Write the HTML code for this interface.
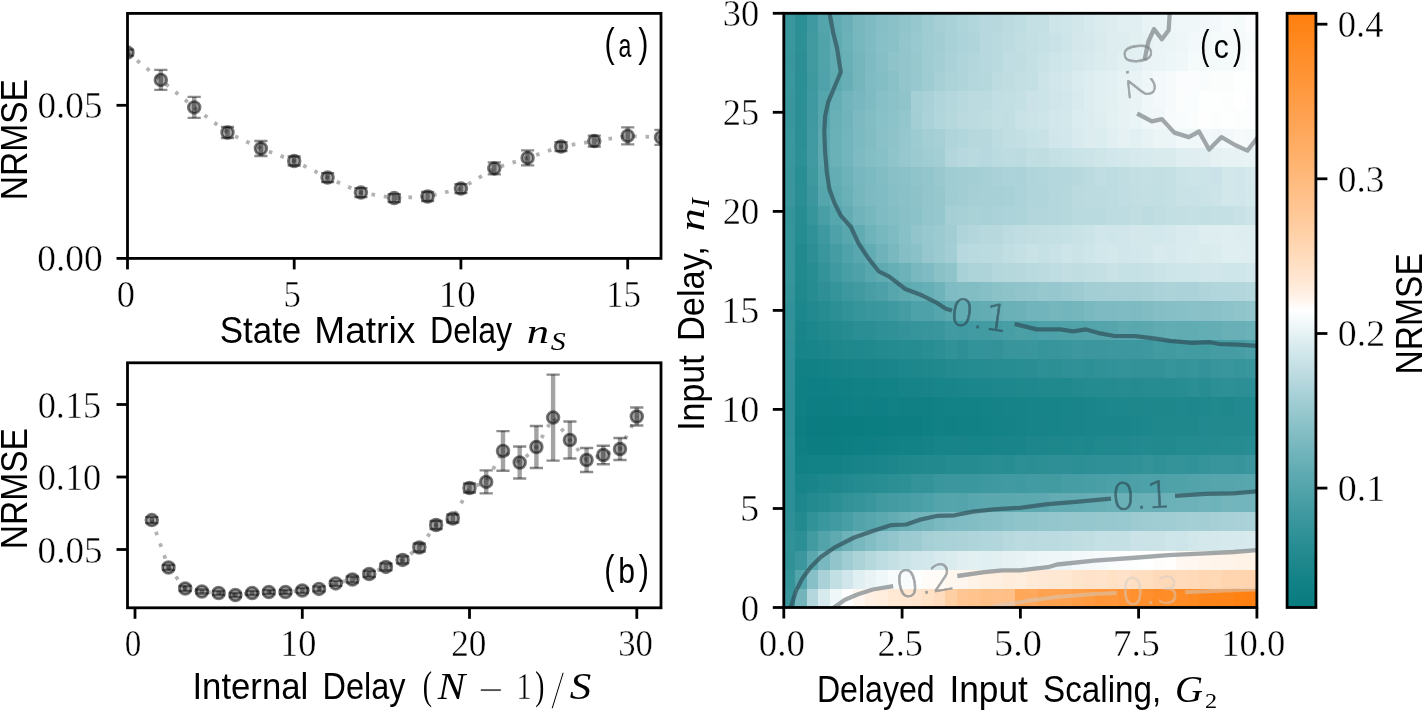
<!DOCTYPE html>
<html lang="en">
<head>
<meta charset="utf-8">
<title>NRMSE versus delay parameters</title>
<style>
html,body{margin:0;padding:0;background:#fff;}
body{width:1425px;height:711px;overflow:hidden;}
svg{display:block;}
text{white-space:pre;}
</style>
</head>
<body>
<svg width="1425" height="711" viewBox="0 0 1425 711">
<rect x="0" y="0" width="1425" height="711" fill="#ffffff"/>
<g shape-rendering="crispEdges">
<rect x="783.80" y="588.33" width="12.14" height="19.77" fill="#3a969d"/>
<rect x="795.34" y="588.33" width="12.14" height="19.77" fill="#74b5bc"/>
<rect x="806.88" y="588.33" width="12.14" height="19.77" fill="#b4d7dd"/>
<rect x="818.42" y="588.33" width="12.14" height="19.77" fill="#d7eaed"/>
<rect x="829.96" y="588.33" width="12.14" height="19.77" fill="#eff7f8"/>
<rect x="841.50" y="588.33" width="12.14" height="19.77" fill="#fefefe"/>
<rect x="853.03" y="588.33" width="12.14" height="19.77" fill="#fff7ef"/>
<rect x="864.57" y="588.33" width="12.14" height="19.77" fill="#fff0e3"/>
<rect x="876.11" y="588.33" width="12.14" height="19.77" fill="#ffeddd"/>
<rect x="887.65" y="588.33" width="12.14" height="19.77" fill="#ffe8d4"/>
<rect x="899.19" y="588.33" width="12.14" height="19.77" fill="#ffe7d2"/>
<rect x="910.73" y="588.33" width="12.14" height="19.77" fill="#ffe5cd"/>
<rect x="922.27" y="588.33" width="12.14" height="19.77" fill="#ffe1c6"/>
<rect x="933.81" y="588.33" width="12.14" height="19.77" fill="#ffdcbe"/>
<rect x="945.35" y="588.33" width="12.14" height="19.77" fill="#ffcfa4"/>
<rect x="956.89" y="588.33" width="12.14" height="19.77" fill="#ffc694"/>
<rect x="968.42" y="588.33" width="12.14" height="19.77" fill="#ffc38e"/>
<rect x="979.96" y="588.33" width="12.14" height="19.77" fill="#ffc088"/>
<rect x="991.50" y="588.33" width="12.14" height="19.77" fill="#ffc089"/>
<rect x="1003.04" y="588.33" width="12.14" height="19.77" fill="#ffbf87"/>
<rect x="1014.58" y="588.33" width="12.14" height="19.77" fill="#ffa759"/>
<rect x="1026.12" y="588.33" width="12.14" height="19.77" fill="#ffa85c"/>
<rect x="1037.66" y="588.33" width="12.14" height="19.77" fill="#ffa250"/>
<rect x="1049.20" y="588.33" width="12.14" height="19.77" fill="#ffa250"/>
<rect x="1060.74" y="588.33" width="12.14" height="19.77" fill="#ffa04c"/>
<rect x="1072.28" y="588.33" width="12.14" height="19.77" fill="#ff9d47"/>
<rect x="1083.81" y="588.33" width="12.14" height="19.77" fill="#ff9a40"/>
<rect x="1095.35" y="588.33" width="12.14" height="19.77" fill="#ff9537"/>
<rect x="1106.89" y="588.33" width="12.14" height="19.77" fill="#ff9639"/>
<rect x="1118.43" y="588.33" width="12.14" height="19.77" fill="#ff9232"/>
<rect x="1129.97" y="588.33" width="12.14" height="19.77" fill="#ff902e"/>
<rect x="1141.51" y="588.33" width="12.14" height="19.77" fill="#ff8f2c"/>
<rect x="1153.05" y="588.33" width="12.14" height="19.77" fill="#ff8c27"/>
<rect x="1164.59" y="588.33" width="12.14" height="19.77" fill="#ff8d28"/>
<rect x="1176.13" y="588.33" width="12.14" height="19.77" fill="#ff8b25"/>
<rect x="1187.67" y="588.33" width="12.14" height="19.77" fill="#ff8921"/>
<rect x="1199.20" y="588.33" width="12.14" height="19.77" fill="#ff851a"/>
<rect x="1210.74" y="588.33" width="12.14" height="19.77" fill="#ff8519"/>
<rect x="1222.28" y="588.33" width="12.14" height="19.77" fill="#ff8417"/>
<rect x="1233.82" y="588.33" width="12.14" height="19.77" fill="#ff8112"/>
<rect x="1245.36" y="588.33" width="12.14" height="19.77" fill="#ff8010"/>
<rect x="783.80" y="569.16" width="12.14" height="19.77" fill="#35949a"/>
<rect x="795.34" y="569.16" width="12.14" height="19.77" fill="#53a4ab"/>
<rect x="806.88" y="569.16" width="12.14" height="19.77" fill="#88c0c7"/>
<rect x="818.42" y="569.16" width="12.14" height="19.77" fill="#a9d1d7"/>
<rect x="829.96" y="569.16" width="12.14" height="19.77" fill="#c2dfe3"/>
<rect x="841.50" y="569.16" width="12.14" height="19.77" fill="#d1e6ea"/>
<rect x="853.03" y="569.16" width="12.14" height="19.77" fill="#e0eff1"/>
<rect x="864.57" y="569.16" width="12.14" height="19.77" fill="#e9f3f5"/>
<rect x="876.11" y="569.16" width="12.14" height="19.77" fill="#eff7f8"/>
<rect x="887.65" y="569.16" width="12.14" height="19.77" fill="#f8fbfc"/>
<rect x="899.19" y="569.16" width="12.14" height="19.77" fill="#f8fbfc"/>
<rect x="910.73" y="569.16" width="12.14" height="19.77" fill="#fdfefe"/>
<rect x="922.27" y="569.16" width="12.14" height="19.77" fill="#fffbf8"/>
<rect x="933.81" y="569.16" width="12.14" height="19.77" fill="#fffbf7"/>
<rect x="945.35" y="569.16" width="12.14" height="19.77" fill="#fff6ee"/>
<rect x="956.89" y="569.16" width="12.14" height="19.77" fill="#fff6ef"/>
<rect x="968.42" y="569.16" width="12.14" height="19.77" fill="#fff2e6"/>
<rect x="979.96" y="569.16" width="12.14" height="19.77" fill="#fff0e2"/>
<rect x="991.50" y="569.16" width="12.14" height="19.77" fill="#ffefe1"/>
<rect x="1003.04" y="569.16" width="12.14" height="19.77" fill="#ffecdb"/>
<rect x="1014.58" y="569.16" width="12.14" height="19.77" fill="#ffeddd"/>
<rect x="1026.12" y="569.16" width="12.14" height="19.77" fill="#ffead7"/>
<rect x="1037.66" y="569.16" width="12.14" height="19.77" fill="#ffe9d6"/>
<rect x="1049.20" y="569.16" width="12.14" height="19.77" fill="#ffe8d3"/>
<rect x="1060.74" y="569.16" width="12.14" height="19.77" fill="#ffe7d2"/>
<rect x="1072.28" y="569.16" width="12.14" height="19.77" fill="#ffe4cc"/>
<rect x="1083.81" y="569.16" width="12.14" height="19.77" fill="#ffe2c9"/>
<rect x="1095.35" y="569.16" width="12.14" height="19.77" fill="#ffe3cb"/>
<rect x="1106.89" y="569.16" width="12.14" height="19.77" fill="#ffe1c6"/>
<rect x="1118.43" y="569.16" width="12.14" height="19.77" fill="#ffe2c9"/>
<rect x="1129.97" y="569.16" width="12.14" height="19.77" fill="#ffdec1"/>
<rect x="1141.51" y="569.16" width="12.14" height="19.77" fill="#ffddbf"/>
<rect x="1153.05" y="569.16" width="12.14" height="19.77" fill="#ffdaba"/>
<rect x="1164.59" y="569.16" width="12.14" height="19.77" fill="#ffdab9"/>
<rect x="1176.13" y="569.16" width="12.14" height="19.77" fill="#ffdbbb"/>
<rect x="1187.67" y="569.16" width="12.14" height="19.77" fill="#ffd9b8"/>
<rect x="1199.20" y="569.16" width="12.14" height="19.77" fill="#ffd7b3"/>
<rect x="1210.74" y="569.16" width="12.14" height="19.77" fill="#ffd8b6"/>
<rect x="1222.28" y="569.16" width="12.14" height="19.77" fill="#ffd5b0"/>
<rect x="1233.82" y="569.16" width="12.14" height="19.77" fill="#ffd5b0"/>
<rect x="1245.36" y="569.16" width="12.14" height="19.77" fill="#ffd4ae"/>
<rect x="783.80" y="550.00" width="12.14" height="19.77" fill="#309197"/>
<rect x="795.34" y="550.00" width="12.14" height="19.77" fill="#3b979d"/>
<rect x="806.88" y="550.00" width="12.14" height="19.77" fill="#5ba8af"/>
<rect x="818.42" y="550.00" width="12.14" height="19.77" fill="#79b8bf"/>
<rect x="829.96" y="550.00" width="12.14" height="19.77" fill="#91c5cb"/>
<rect x="841.50" y="550.00" width="12.14" height="19.77" fill="#a0cdd3"/>
<rect x="853.03" y="550.00" width="12.14" height="19.77" fill="#abd3d8"/>
<rect x="864.57" y="550.00" width="12.14" height="19.77" fill="#b5d8dd"/>
<rect x="876.11" y="550.00" width="12.14" height="19.77" fill="#bedde2"/>
<rect x="887.65" y="550.00" width="12.14" height="19.77" fill="#c5e0e5"/>
<rect x="899.19" y="550.00" width="12.14" height="19.77" fill="#cbe4e8"/>
<rect x="910.73" y="550.00" width="12.14" height="19.77" fill="#d0e6ea"/>
<rect x="922.27" y="550.00" width="12.14" height="19.77" fill="#d2e7eb"/>
<rect x="933.81" y="550.00" width="12.14" height="19.77" fill="#d8eaee"/>
<rect x="945.35" y="550.00" width="12.14" height="19.77" fill="#dbecef"/>
<rect x="956.89" y="550.00" width="12.14" height="19.77" fill="#e0eef1"/>
<rect x="968.42" y="550.00" width="12.14" height="19.77" fill="#e2f0f2"/>
<rect x="979.96" y="550.00" width="12.14" height="19.77" fill="#e0eff1"/>
<rect x="991.50" y="550.00" width="12.14" height="19.77" fill="#e3f0f2"/>
<rect x="1003.04" y="550.00" width="12.14" height="19.77" fill="#e5f1f3"/>
<rect x="1014.58" y="550.00" width="12.14" height="19.77" fill="#e7f2f4"/>
<rect x="1026.12" y="550.00" width="12.14" height="19.77" fill="#eaf4f6"/>
<rect x="1037.66" y="550.00" width="12.14" height="19.77" fill="#edf5f7"/>
<rect x="1049.20" y="550.00" width="12.14" height="19.77" fill="#eef6f7"/>
<rect x="1060.74" y="550.00" width="12.14" height="19.77" fill="#eff6f8"/>
<rect x="1072.28" y="550.00" width="12.14" height="19.77" fill="#f3f8fa"/>
<rect x="1083.81" y="550.00" width="12.14" height="19.77" fill="#f5f9fa"/>
<rect x="1095.35" y="550.00" width="12.14" height="19.77" fill="#f7fbfc"/>
<rect x="1106.89" y="550.00" width="12.14" height="19.77" fill="#fbfdfd"/>
<rect x="1118.43" y="550.00" width="12.14" height="19.77" fill="#fcfdfe"/>
<rect x="1129.97" y="550.00" width="12.14" height="19.77" fill="#fdfefe"/>
<rect x="1141.51" y="550.00" width="12.14" height="19.77" fill="#ffffff"/>
<rect x="1153.05" y="550.00" width="12.14" height="19.77" fill="#fffdfb"/>
<rect x="1164.59" y="550.00" width="12.14" height="19.77" fill="#fffefd"/>
<rect x="1176.13" y="550.00" width="12.14" height="19.77" fill="#fff8f2"/>
<rect x="1187.67" y="550.00" width="12.14" height="19.77" fill="#fff7f0"/>
<rect x="1199.20" y="550.00" width="12.14" height="19.77" fill="#fff5ec"/>
<rect x="1210.74" y="550.00" width="12.14" height="19.77" fill="#fff4ea"/>
<rect x="1222.28" y="550.00" width="12.14" height="19.77" fill="#fff4ea"/>
<rect x="1233.82" y="550.00" width="12.14" height="19.77" fill="#fff2e7"/>
<rect x="1245.36" y="550.00" width="12.14" height="19.77" fill="#fff2e6"/>
<rect x="783.80" y="530.83" width="12.14" height="19.77" fill="#319298"/>
<rect x="795.34" y="530.83" width="12.14" height="19.77" fill="#2b8f95"/>
<rect x="806.88" y="530.83" width="12.14" height="19.77" fill="#439ba2"/>
<rect x="818.42" y="530.83" width="12.14" height="19.77" fill="#52a3aa"/>
<rect x="829.96" y="530.83" width="12.14" height="19.77" fill="#5faab1"/>
<rect x="841.50" y="530.83" width="12.14" height="19.77" fill="#6db2b9"/>
<rect x="853.03" y="530.83" width="12.14" height="19.77" fill="#7ab8bf"/>
<rect x="864.57" y="530.83" width="12.14" height="19.77" fill="#82bdc4"/>
<rect x="876.11" y="530.83" width="12.14" height="19.77" fill="#8cc2c9"/>
<rect x="887.65" y="530.83" width="12.14" height="19.77" fill="#93c6cc"/>
<rect x="899.19" y="530.83" width="12.14" height="19.77" fill="#9bcad0"/>
<rect x="910.73" y="530.83" width="12.14" height="19.77" fill="#9ecbd2"/>
<rect x="922.27" y="530.83" width="12.14" height="19.77" fill="#a6d0d6"/>
<rect x="933.81" y="530.83" width="12.14" height="19.77" fill="#a9d2d7"/>
<rect x="945.35" y="530.83" width="12.14" height="19.77" fill="#aad2d8"/>
<rect x="956.89" y="530.83" width="12.14" height="19.77" fill="#add3d9"/>
<rect x="968.42" y="530.83" width="12.14" height="19.77" fill="#afd5da"/>
<rect x="979.96" y="530.83" width="12.14" height="19.77" fill="#b1d6db"/>
<rect x="991.50" y="530.83" width="12.14" height="19.77" fill="#b2d6dc"/>
<rect x="1003.04" y="530.83" width="12.14" height="19.77" fill="#b8d9de"/>
<rect x="1014.58" y="530.83" width="12.14" height="19.77" fill="#bbdbe0"/>
<rect x="1026.12" y="530.83" width="12.14" height="19.77" fill="#badadf"/>
<rect x="1037.66" y="530.83" width="12.14" height="19.77" fill="#bcdbe0"/>
<rect x="1049.20" y="530.83" width="12.14" height="19.77" fill="#bbdbe0"/>
<rect x="1060.74" y="530.83" width="12.14" height="19.77" fill="#bddce1"/>
<rect x="1072.28" y="530.83" width="12.14" height="19.77" fill="#c0dee2"/>
<rect x="1083.81" y="530.83" width="12.14" height="19.77" fill="#c1dee3"/>
<rect x="1095.35" y="530.83" width="12.14" height="19.77" fill="#c6e1e5"/>
<rect x="1106.89" y="530.83" width="12.14" height="19.77" fill="#c4e0e4"/>
<rect x="1118.43" y="530.83" width="12.14" height="19.77" fill="#c5e0e5"/>
<rect x="1129.97" y="530.83" width="12.14" height="19.77" fill="#cbe3e8"/>
<rect x="1141.51" y="530.83" width="12.14" height="19.77" fill="#cbe3e7"/>
<rect x="1153.05" y="530.83" width="12.14" height="19.77" fill="#cbe3e7"/>
<rect x="1164.59" y="530.83" width="12.14" height="19.77" fill="#cee5e9"/>
<rect x="1176.13" y="530.83" width="12.14" height="19.77" fill="#cde5e9"/>
<rect x="1187.67" y="530.83" width="12.14" height="19.77" fill="#d1e7ea"/>
<rect x="1199.20" y="530.83" width="12.14" height="19.77" fill="#d5e8ec"/>
<rect x="1210.74" y="530.83" width="12.14" height="19.77" fill="#d5e9ec"/>
<rect x="1222.28" y="530.83" width="12.14" height="19.77" fill="#d6e9ed"/>
<rect x="1233.82" y="530.83" width="12.14" height="19.77" fill="#d6e9ed"/>
<rect x="1245.36" y="530.83" width="12.14" height="19.77" fill="#d8eaed"/>
<rect x="783.80" y="511.66" width="12.14" height="19.77" fill="#2e9096"/>
<rect x="795.34" y="511.66" width="12.14" height="19.77" fill="#238a90"/>
<rect x="806.88" y="511.66" width="12.14" height="19.77" fill="#319298"/>
<rect x="818.42" y="511.66" width="12.14" height="19.77" fill="#3a979d"/>
<rect x="829.96" y="511.66" width="12.14" height="19.77" fill="#419aa1"/>
<rect x="841.50" y="511.66" width="12.14" height="19.77" fill="#489ea5"/>
<rect x="853.03" y="511.66" width="12.14" height="19.77" fill="#52a3aa"/>
<rect x="864.57" y="511.66" width="12.14" height="19.77" fill="#58a6ad"/>
<rect x="876.11" y="511.66" width="12.14" height="19.77" fill="#5da9b0"/>
<rect x="887.65" y="511.66" width="12.14" height="19.77" fill="#63acb4"/>
<rect x="899.19" y="511.66" width="12.14" height="19.77" fill="#6ab0b7"/>
<rect x="910.73" y="511.66" width="12.14" height="19.77" fill="#70b3ba"/>
<rect x="922.27" y="511.66" width="12.14" height="19.77" fill="#74b5bc"/>
<rect x="933.81" y="511.66" width="12.14" height="19.77" fill="#7bb9c0"/>
<rect x="945.35" y="511.66" width="12.14" height="19.77" fill="#7fbbc2"/>
<rect x="956.89" y="511.66" width="12.14" height="19.77" fill="#80bcc3"/>
<rect x="968.42" y="511.66" width="12.14" height="19.77" fill="#82bdc4"/>
<rect x="979.96" y="511.66" width="12.14" height="19.77" fill="#86bfc6"/>
<rect x="991.50" y="511.66" width="12.14" height="19.77" fill="#88c0c7"/>
<rect x="1003.04" y="511.66" width="12.14" height="19.77" fill="#8cc2c9"/>
<rect x="1014.58" y="511.66" width="12.14" height="19.77" fill="#90c4cb"/>
<rect x="1026.12" y="511.66" width="12.14" height="19.77" fill="#8fc4ca"/>
<rect x="1037.66" y="511.66" width="12.14" height="19.77" fill="#93c6cc"/>
<rect x="1049.20" y="511.66" width="12.14" height="19.77" fill="#94c6cd"/>
<rect x="1060.74" y="511.66" width="12.14" height="19.77" fill="#96c7ce"/>
<rect x="1072.28" y="511.66" width="12.14" height="19.77" fill="#95c7cd"/>
<rect x="1083.81" y="511.66" width="12.14" height="19.77" fill="#95c7ce"/>
<rect x="1095.35" y="511.66" width="12.14" height="19.77" fill="#97c8ce"/>
<rect x="1106.89" y="511.66" width="12.14" height="19.77" fill="#98c8cf"/>
<rect x="1118.43" y="511.66" width="12.14" height="19.77" fill="#99c9d0"/>
<rect x="1129.97" y="511.66" width="12.14" height="19.77" fill="#9dcbd1"/>
<rect x="1141.51" y="511.66" width="12.14" height="19.77" fill="#9fccd2"/>
<rect x="1153.05" y="511.66" width="12.14" height="19.77" fill="#a0cdd3"/>
<rect x="1164.59" y="511.66" width="12.14" height="19.77" fill="#a0ccd3"/>
<rect x="1176.13" y="511.66" width="12.14" height="19.77" fill="#a2ced4"/>
<rect x="1187.67" y="511.66" width="12.14" height="19.77" fill="#a4cfd5"/>
<rect x="1199.20" y="511.66" width="12.14" height="19.77" fill="#a2ced4"/>
<rect x="1210.74" y="511.66" width="12.14" height="19.77" fill="#a6d0d6"/>
<rect x="1222.28" y="511.66" width="12.14" height="19.77" fill="#a8d1d7"/>
<rect x="1233.82" y="511.66" width="12.14" height="19.77" fill="#a9d1d7"/>
<rect x="1245.36" y="511.66" width="12.14" height="19.77" fill="#aad2d8"/>
<rect x="783.80" y="492.49" width="12.14" height="19.77" fill="#2c8f95"/>
<rect x="795.34" y="492.49" width="12.14" height="19.77" fill="#1c868c"/>
<rect x="806.88" y="492.49" width="12.14" height="19.77" fill="#238a90"/>
<rect x="818.42" y="492.49" width="12.14" height="19.77" fill="#278c92"/>
<rect x="829.96" y="492.49" width="12.14" height="19.77" fill="#2c8f95"/>
<rect x="841.50" y="492.49" width="12.14" height="19.77" fill="#329298"/>
<rect x="853.03" y="492.49" width="12.14" height="19.77" fill="#35949a"/>
<rect x="864.57" y="492.49" width="12.14" height="19.77" fill="#39969d"/>
<rect x="876.11" y="492.49" width="12.14" height="19.77" fill="#409aa0"/>
<rect x="887.65" y="492.49" width="12.14" height="19.77" fill="#449ca2"/>
<rect x="899.19" y="492.49" width="12.14" height="19.77" fill="#469da4"/>
<rect x="910.73" y="492.49" width="12.14" height="19.77" fill="#4a9fa6"/>
<rect x="922.27" y="492.49" width="12.14" height="19.77" fill="#4da1a8"/>
<rect x="933.81" y="492.49" width="12.14" height="19.77" fill="#54a4ac"/>
<rect x="945.35" y="492.49" width="12.14" height="19.77" fill="#55a5ac"/>
<rect x="956.89" y="492.49" width="12.14" height="19.77" fill="#54a4ab"/>
<rect x="968.42" y="492.49" width="12.14" height="19.77" fill="#59a7ae"/>
<rect x="979.96" y="492.49" width="12.14" height="19.77" fill="#5ba8af"/>
<rect x="991.50" y="492.49" width="12.14" height="19.77" fill="#5ba8af"/>
<rect x="1003.04" y="492.49" width="12.14" height="19.77" fill="#5ba8af"/>
<rect x="1014.58" y="492.49" width="12.14" height="19.77" fill="#5da9b0"/>
<rect x="1026.12" y="492.49" width="12.14" height="19.77" fill="#5da9b0"/>
<rect x="1037.66" y="492.49" width="12.14" height="19.77" fill="#5ea9b1"/>
<rect x="1049.20" y="492.49" width="12.14" height="19.77" fill="#63acb4"/>
<rect x="1060.74" y="492.49" width="12.14" height="19.77" fill="#63acb4"/>
<rect x="1072.28" y="492.49" width="12.14" height="19.77" fill="#64adb4"/>
<rect x="1083.81" y="492.49" width="12.14" height="19.77" fill="#67afb6"/>
<rect x="1095.35" y="492.49" width="12.14" height="19.77" fill="#67aeb5"/>
<rect x="1106.89" y="492.49" width="12.14" height="19.77" fill="#6ab0b7"/>
<rect x="1118.43" y="492.49" width="12.14" height="19.77" fill="#6ab0b7"/>
<rect x="1129.97" y="492.49" width="12.14" height="19.77" fill="#68afb6"/>
<rect x="1141.51" y="492.49" width="12.14" height="19.77" fill="#6ab0b7"/>
<rect x="1153.05" y="492.49" width="12.14" height="19.77" fill="#6bb0b8"/>
<rect x="1164.59" y="492.49" width="12.14" height="19.77" fill="#6bb1b8"/>
<rect x="1176.13" y="492.49" width="12.14" height="19.77" fill="#6eb2b9"/>
<rect x="1187.67" y="492.49" width="12.14" height="19.77" fill="#6eb2b9"/>
<rect x="1199.20" y="492.49" width="12.14" height="19.77" fill="#70b3ba"/>
<rect x="1210.74" y="492.49" width="12.14" height="19.77" fill="#6fb3ba"/>
<rect x="1222.28" y="492.49" width="12.14" height="19.77" fill="#74b5bc"/>
<rect x="1233.82" y="492.49" width="12.14" height="19.77" fill="#73b5bc"/>
<rect x="1245.36" y="492.49" width="12.14" height="19.77" fill="#74b5bd"/>
<rect x="783.80" y="473.33" width="12.14" height="19.77" fill="#2c8f95"/>
<rect x="795.34" y="473.33" width="12.14" height="19.77" fill="#168489"/>
<rect x="806.88" y="473.33" width="12.14" height="19.77" fill="#19858a"/>
<rect x="818.42" y="473.33" width="12.14" height="19.77" fill="#1c878c"/>
<rect x="829.96" y="473.33" width="12.14" height="19.77" fill="#1e888d"/>
<rect x="841.50" y="473.33" width="12.14" height="19.77" fill="#21898f"/>
<rect x="853.03" y="473.33" width="12.14" height="19.77" fill="#248b90"/>
<rect x="864.57" y="473.33" width="12.14" height="19.77" fill="#268c91"/>
<rect x="876.11" y="473.33" width="12.14" height="19.77" fill="#298e93"/>
<rect x="887.65" y="473.33" width="12.14" height="19.77" fill="#2b8f94"/>
<rect x="899.19" y="473.33" width="12.14" height="19.77" fill="#2d9095"/>
<rect x="910.73" y="473.33" width="12.14" height="19.77" fill="#349399"/>
<rect x="922.27" y="473.33" width="12.14" height="19.77" fill="#349399"/>
<rect x="933.81" y="473.33" width="12.14" height="19.77" fill="#38969c"/>
<rect x="945.35" y="473.33" width="12.14" height="19.77" fill="#3b979d"/>
<rect x="956.89" y="473.33" width="12.14" height="19.77" fill="#3b979e"/>
<rect x="968.42" y="473.33" width="12.14" height="19.77" fill="#3b979e"/>
<rect x="979.96" y="473.33" width="12.14" height="19.77" fill="#3d989f"/>
<rect x="991.50" y="473.33" width="12.14" height="19.77" fill="#3f99a0"/>
<rect x="1003.04" y="473.33" width="12.14" height="19.77" fill="#419aa1"/>
<rect x="1014.58" y="473.33" width="12.14" height="19.77" fill="#3f99a0"/>
<rect x="1026.12" y="473.33" width="12.14" height="19.77" fill="#429ba2"/>
<rect x="1037.66" y="473.33" width="12.14" height="19.77" fill="#429ba1"/>
<rect x="1049.20" y="473.33" width="12.14" height="19.77" fill="#439ba2"/>
<rect x="1060.74" y="473.33" width="12.14" height="19.77" fill="#479da4"/>
<rect x="1072.28" y="473.33" width="12.14" height="19.77" fill="#479da4"/>
<rect x="1083.81" y="473.33" width="12.14" height="19.77" fill="#489ea5"/>
<rect x="1095.35" y="473.33" width="12.14" height="19.77" fill="#4a9fa6"/>
<rect x="1106.89" y="473.33" width="12.14" height="19.77" fill="#4ca0a7"/>
<rect x="1118.43" y="473.33" width="12.14" height="19.77" fill="#4b9fa6"/>
<rect x="1129.97" y="473.33" width="12.14" height="19.77" fill="#4da0a7"/>
<rect x="1141.51" y="473.33" width="12.14" height="19.77" fill="#4da1a8"/>
<rect x="1153.05" y="473.33" width="12.14" height="19.77" fill="#4ea1a8"/>
<rect x="1164.59" y="473.33" width="12.14" height="19.77" fill="#50a2a9"/>
<rect x="1176.13" y="473.33" width="12.14" height="19.77" fill="#50a2a9"/>
<rect x="1187.67" y="473.33" width="12.14" height="19.77" fill="#52a3aa"/>
<rect x="1199.20" y="473.33" width="12.14" height="19.77" fill="#53a4ab"/>
<rect x="1210.74" y="473.33" width="12.14" height="19.77" fill="#56a5ac"/>
<rect x="1222.28" y="473.33" width="12.14" height="19.77" fill="#56a5ac"/>
<rect x="1233.82" y="473.33" width="12.14" height="19.77" fill="#58a6ad"/>
<rect x="1245.36" y="473.33" width="12.14" height="19.77" fill="#59a7ae"/>
<rect x="783.80" y="454.16" width="12.14" height="19.77" fill="#2c8f95"/>
<rect x="795.34" y="454.16" width="12.14" height="19.77" fill="#128186"/>
<rect x="806.88" y="454.16" width="12.14" height="19.77" fill="#138286"/>
<rect x="818.42" y="454.16" width="12.14" height="19.77" fill="#138287"/>
<rect x="829.96" y="454.16" width="12.14" height="19.77" fill="#138287"/>
<rect x="841.50" y="454.16" width="12.14" height="19.77" fill="#158388"/>
<rect x="853.03" y="454.16" width="12.14" height="19.77" fill="#188489"/>
<rect x="864.57" y="454.16" width="12.14" height="19.77" fill="#19858a"/>
<rect x="876.11" y="454.16" width="12.14" height="19.77" fill="#1a868b"/>
<rect x="887.65" y="454.16" width="12.14" height="19.77" fill="#1c868c"/>
<rect x="899.19" y="454.16" width="12.14" height="19.77" fill="#1e888d"/>
<rect x="910.73" y="454.16" width="12.14" height="19.77" fill="#20898e"/>
<rect x="922.27" y="454.16" width="12.14" height="19.77" fill="#228a8f"/>
<rect x="933.81" y="454.16" width="12.14" height="19.77" fill="#228a8f"/>
<rect x="945.35" y="454.16" width="12.14" height="19.77" fill="#248b91"/>
<rect x="956.89" y="454.16" width="12.14" height="19.77" fill="#258b91"/>
<rect x="968.42" y="454.16" width="12.14" height="19.77" fill="#258b91"/>
<rect x="979.96" y="454.16" width="12.14" height="19.77" fill="#288d92"/>
<rect x="991.50" y="454.16" width="12.14" height="19.77" fill="#298d93"/>
<rect x="1003.04" y="454.16" width="12.14" height="19.77" fill="#278d92"/>
<rect x="1014.58" y="454.16" width="12.14" height="19.77" fill="#2c8f95"/>
<rect x="1026.12" y="454.16" width="12.14" height="19.77" fill="#2a8e94"/>
<rect x="1037.66" y="454.16" width="12.14" height="19.77" fill="#2b8f94"/>
<rect x="1049.20" y="454.16" width="12.14" height="19.77" fill="#2e9096"/>
<rect x="1060.74" y="454.16" width="12.14" height="19.77" fill="#2e9096"/>
<rect x="1072.28" y="454.16" width="12.14" height="19.77" fill="#2c8f95"/>
<rect x="1083.81" y="454.16" width="12.14" height="19.77" fill="#2e9096"/>
<rect x="1095.35" y="454.16" width="12.14" height="19.77" fill="#2f9197"/>
<rect x="1106.89" y="454.16" width="12.14" height="19.77" fill="#2f9197"/>
<rect x="1118.43" y="454.16" width="12.14" height="19.77" fill="#2f9197"/>
<rect x="1129.97" y="454.16" width="12.14" height="19.77" fill="#309197"/>
<rect x="1141.51" y="454.16" width="12.14" height="19.77" fill="#339399"/>
<rect x="1153.05" y="454.16" width="12.14" height="19.77" fill="#309197"/>
<rect x="1164.59" y="454.16" width="12.14" height="19.77" fill="#339399"/>
<rect x="1176.13" y="454.16" width="12.14" height="19.77" fill="#349399"/>
<rect x="1187.67" y="454.16" width="12.14" height="19.77" fill="#329299"/>
<rect x="1199.20" y="454.16" width="12.14" height="19.77" fill="#35949a"/>
<rect x="1210.74" y="454.16" width="12.14" height="19.77" fill="#37959b"/>
<rect x="1222.28" y="454.16" width="12.14" height="19.77" fill="#37959b"/>
<rect x="1233.82" y="454.16" width="12.14" height="19.77" fill="#36949a"/>
<rect x="1245.36" y="454.16" width="12.14" height="19.77" fill="#3b979d"/>
<rect x="783.80" y="434.99" width="12.14" height="19.77" fill="#2d9096"/>
<rect x="795.34" y="434.99" width="12.14" height="19.77" fill="#0f7f84"/>
<rect x="806.88" y="434.99" width="12.14" height="19.77" fill="#0c7e82"/>
<rect x="818.42" y="434.99" width="12.14" height="19.77" fill="#0c7e82"/>
<rect x="829.96" y="434.99" width="12.14" height="19.77" fill="#0b7e82"/>
<rect x="841.50" y="434.99" width="12.14" height="19.77" fill="#0d7f83"/>
<rect x="853.03" y="434.99" width="12.14" height="19.77" fill="#0e7f83"/>
<rect x="864.57" y="434.99" width="12.14" height="19.77" fill="#0e7f84"/>
<rect x="876.11" y="434.99" width="12.14" height="19.77" fill="#108085"/>
<rect x="887.65" y="434.99" width="12.14" height="19.77" fill="#128186"/>
<rect x="899.19" y="434.99" width="12.14" height="19.77" fill="#138286"/>
<rect x="910.73" y="434.99" width="12.14" height="19.77" fill="#138286"/>
<rect x="922.27" y="434.99" width="12.14" height="19.77" fill="#148287"/>
<rect x="933.81" y="434.99" width="12.14" height="19.77" fill="#178489"/>
<rect x="945.35" y="434.99" width="12.14" height="19.77" fill="#178489"/>
<rect x="956.89" y="434.99" width="12.14" height="19.77" fill="#188489"/>
<rect x="968.42" y="434.99" width="12.14" height="19.77" fill="#178489"/>
<rect x="979.96" y="434.99" width="12.14" height="19.77" fill="#178489"/>
<rect x="991.50" y="434.99" width="12.14" height="19.77" fill="#19858a"/>
<rect x="1003.04" y="434.99" width="12.14" height="19.77" fill="#19858a"/>
<rect x="1014.58" y="434.99" width="12.14" height="19.77" fill="#19858a"/>
<rect x="1026.12" y="434.99" width="12.14" height="19.77" fill="#1c868c"/>
<rect x="1037.66" y="434.99" width="12.14" height="19.77" fill="#1c868c"/>
<rect x="1049.20" y="434.99" width="12.14" height="19.77" fill="#1d878c"/>
<rect x="1060.74" y="434.99" width="12.14" height="19.77" fill="#1c878c"/>
<rect x="1072.28" y="434.99" width="12.14" height="19.77" fill="#1e888d"/>
<rect x="1083.81" y="434.99" width="12.14" height="19.77" fill="#1d878d"/>
<rect x="1095.35" y="434.99" width="12.14" height="19.77" fill="#20898e"/>
<rect x="1106.89" y="434.99" width="12.14" height="19.77" fill="#20888e"/>
<rect x="1118.43" y="434.99" width="12.14" height="19.77" fill="#20898e"/>
<rect x="1129.97" y="434.99" width="12.14" height="19.77" fill="#21898f"/>
<rect x="1141.51" y="434.99" width="12.14" height="19.77" fill="#238a90"/>
<rect x="1153.05" y="434.99" width="12.14" height="19.77" fill="#228a8f"/>
<rect x="1164.59" y="434.99" width="12.14" height="19.77" fill="#228a8f"/>
<rect x="1176.13" y="434.99" width="12.14" height="19.77" fill="#248b90"/>
<rect x="1187.67" y="434.99" width="12.14" height="19.77" fill="#248b90"/>
<rect x="1199.20" y="434.99" width="12.14" height="19.77" fill="#248b90"/>
<rect x="1210.74" y="434.99" width="12.14" height="19.77" fill="#258b91"/>
<rect x="1222.28" y="434.99" width="12.14" height="19.77" fill="#258c91"/>
<rect x="1233.82" y="434.99" width="12.14" height="19.77" fill="#268c92"/>
<rect x="1245.36" y="434.99" width="12.14" height="19.77" fill="#278d92"/>
<rect x="783.80" y="415.82" width="12.14" height="19.77" fill="#2c8f95"/>
<rect x="795.34" y="415.82" width="12.14" height="19.77" fill="#0d7f83"/>
<rect x="806.88" y="415.82" width="12.14" height="19.77" fill="#0b7d82"/>
<rect x="818.42" y="415.82" width="12.14" height="19.77" fill="#0b7d81"/>
<rect x="829.96" y="415.82" width="12.14" height="19.77" fill="#0a7d81"/>
<rect x="841.50" y="415.82" width="12.14" height="19.77" fill="#0a7d81"/>
<rect x="853.03" y="415.82" width="12.14" height="19.77" fill="#0a7d81"/>
<rect x="864.57" y="415.82" width="12.14" height="19.77" fill="#0b7e82"/>
<rect x="876.11" y="415.82" width="12.14" height="19.77" fill="#0b7e82"/>
<rect x="887.65" y="415.82" width="12.14" height="19.77" fill="#0d7f83"/>
<rect x="899.19" y="415.82" width="12.14" height="19.77" fill="#0d7f83"/>
<rect x="910.73" y="415.82" width="12.14" height="19.77" fill="#0d7f83"/>
<rect x="922.27" y="415.82" width="12.14" height="19.77" fill="#0f8084"/>
<rect x="933.81" y="415.82" width="12.14" height="19.77" fill="#118185"/>
<rect x="945.35" y="415.82" width="12.14" height="19.77" fill="#108085"/>
<rect x="956.89" y="415.82" width="12.14" height="19.77" fill="#128186"/>
<rect x="968.42" y="415.82" width="12.14" height="19.77" fill="#128186"/>
<rect x="979.96" y="415.82" width="12.14" height="19.77" fill="#138286"/>
<rect x="991.50" y="415.82" width="12.14" height="19.77" fill="#148387"/>
<rect x="1003.04" y="415.82" width="12.14" height="19.77" fill="#148287"/>
<rect x="1014.58" y="415.82" width="12.14" height="19.77" fill="#158388"/>
<rect x="1026.12" y="415.82" width="12.14" height="19.77" fill="#168488"/>
<rect x="1037.66" y="415.82" width="12.14" height="19.77" fill="#188489"/>
<rect x="1049.20" y="415.82" width="12.14" height="19.77" fill="#178489"/>
<rect x="1060.74" y="415.82" width="12.14" height="19.77" fill="#19858a"/>
<rect x="1072.28" y="415.82" width="12.14" height="19.77" fill="#19858a"/>
<rect x="1083.81" y="415.82" width="12.14" height="19.77" fill="#1a858a"/>
<rect x="1095.35" y="415.82" width="12.14" height="19.77" fill="#1a858a"/>
<rect x="1106.89" y="415.82" width="12.14" height="19.77" fill="#1a868b"/>
<rect x="1118.43" y="415.82" width="12.14" height="19.77" fill="#1a868b"/>
<rect x="1129.97" y="415.82" width="12.14" height="19.77" fill="#1b868b"/>
<rect x="1141.51" y="415.82" width="12.14" height="19.77" fill="#1c878c"/>
<rect x="1153.05" y="415.82" width="12.14" height="19.77" fill="#1e888d"/>
<rect x="1164.59" y="415.82" width="12.14" height="19.77" fill="#1e888d"/>
<rect x="1176.13" y="415.82" width="12.14" height="19.77" fill="#1e888d"/>
<rect x="1187.67" y="415.82" width="12.14" height="19.77" fill="#1f888d"/>
<rect x="1199.20" y="415.82" width="12.14" height="19.77" fill="#21898f"/>
<rect x="1210.74" y="415.82" width="12.14" height="19.77" fill="#228a8f"/>
<rect x="1222.28" y="415.82" width="12.14" height="19.77" fill="#228a8f"/>
<rect x="1233.82" y="415.82" width="12.14" height="19.77" fill="#228a8f"/>
<rect x="1245.36" y="415.82" width="12.14" height="19.77" fill="#228a8f"/>
<rect x="783.80" y="396.65" width="12.14" height="19.77" fill="#2c8f95"/>
<rect x="795.34" y="396.65" width="12.14" height="19.77" fill="#0f8084"/>
<rect x="806.88" y="396.65" width="12.14" height="19.77" fill="#0d7e83"/>
<rect x="818.42" y="396.65" width="12.14" height="19.77" fill="#0d7f83"/>
<rect x="829.96" y="396.65" width="12.14" height="19.77" fill="#0d7e83"/>
<rect x="841.50" y="396.65" width="12.14" height="19.77" fill="#0e7f84"/>
<rect x="853.03" y="396.65" width="12.14" height="19.77" fill="#0f8084"/>
<rect x="864.57" y="396.65" width="12.14" height="19.77" fill="#0f7f84"/>
<rect x="876.11" y="396.65" width="12.14" height="19.77" fill="#0e7f84"/>
<rect x="887.65" y="396.65" width="12.14" height="19.77" fill="#118185"/>
<rect x="899.19" y="396.65" width="12.14" height="19.77" fill="#108084"/>
<rect x="910.73" y="396.65" width="12.14" height="19.77" fill="#108085"/>
<rect x="922.27" y="396.65" width="12.14" height="19.77" fill="#108085"/>
<rect x="933.81" y="396.65" width="12.14" height="19.77" fill="#128186"/>
<rect x="945.35" y="396.65" width="12.14" height="19.77" fill="#138286"/>
<rect x="956.89" y="396.65" width="12.14" height="19.77" fill="#138287"/>
<rect x="968.42" y="396.65" width="12.14" height="19.77" fill="#138287"/>
<rect x="979.96" y="396.65" width="12.14" height="19.77" fill="#148387"/>
<rect x="991.50" y="396.65" width="12.14" height="19.77" fill="#148287"/>
<rect x="1003.04" y="396.65" width="12.14" height="19.77" fill="#158388"/>
<rect x="1014.58" y="396.65" width="12.14" height="19.77" fill="#158388"/>
<rect x="1026.12" y="396.65" width="12.14" height="19.77" fill="#168489"/>
<rect x="1037.66" y="396.65" width="12.14" height="19.77" fill="#168488"/>
<rect x="1049.20" y="396.65" width="12.14" height="19.77" fill="#178489"/>
<rect x="1060.74" y="396.65" width="12.14" height="19.77" fill="#18858a"/>
<rect x="1072.28" y="396.65" width="12.14" height="19.77" fill="#19858a"/>
<rect x="1083.81" y="396.65" width="12.14" height="19.77" fill="#1a868b"/>
<rect x="1095.35" y="396.65" width="12.14" height="19.77" fill="#1b868b"/>
<rect x="1106.89" y="396.65" width="12.14" height="19.77" fill="#1c878c"/>
<rect x="1118.43" y="396.65" width="12.14" height="19.77" fill="#1c878c"/>
<rect x="1129.97" y="396.65" width="12.14" height="19.77" fill="#1d878c"/>
<rect x="1141.51" y="396.65" width="12.14" height="19.77" fill="#1e878d"/>
<rect x="1153.05" y="396.65" width="12.14" height="19.77" fill="#1d878c"/>
<rect x="1164.59" y="396.65" width="12.14" height="19.77" fill="#1d878c"/>
<rect x="1176.13" y="396.65" width="12.14" height="19.77" fill="#1f888e"/>
<rect x="1187.67" y="396.65" width="12.14" height="19.77" fill="#1e878d"/>
<rect x="1199.20" y="396.65" width="12.14" height="19.77" fill="#1f888e"/>
<rect x="1210.74" y="396.65" width="12.14" height="19.77" fill="#20898e"/>
<rect x="1222.28" y="396.65" width="12.14" height="19.77" fill="#1f888d"/>
<rect x="1233.82" y="396.65" width="12.14" height="19.77" fill="#21898f"/>
<rect x="1245.36" y="396.65" width="12.14" height="19.77" fill="#228a8f"/>
<rect x="783.80" y="377.49" width="12.14" height="19.77" fill="#2e9096"/>
<rect x="795.34" y="377.49" width="12.14" height="19.77" fill="#0f8084"/>
<rect x="806.88" y="377.49" width="12.14" height="19.77" fill="#0e7f84"/>
<rect x="818.42" y="377.49" width="12.14" height="19.77" fill="#0e7f84"/>
<rect x="829.96" y="377.49" width="12.14" height="19.77" fill="#0f8084"/>
<rect x="841.50" y="377.49" width="12.14" height="19.77" fill="#108085"/>
<rect x="853.03" y="377.49" width="12.14" height="19.77" fill="#128186"/>
<rect x="864.57" y="377.49" width="12.14" height="19.77" fill="#128186"/>
<rect x="876.11" y="377.49" width="12.14" height="19.77" fill="#138286"/>
<rect x="887.65" y="377.49" width="12.14" height="19.77" fill="#138287"/>
<rect x="899.19" y="377.49" width="12.14" height="19.77" fill="#158388"/>
<rect x="910.73" y="377.49" width="12.14" height="19.77" fill="#168388"/>
<rect x="922.27" y="377.49" width="12.14" height="19.77" fill="#188489"/>
<rect x="933.81" y="377.49" width="12.14" height="19.77" fill="#18858a"/>
<rect x="945.35" y="377.49" width="12.14" height="19.77" fill="#19858a"/>
<rect x="956.89" y="377.49" width="12.14" height="19.77" fill="#1a858a"/>
<rect x="968.42" y="377.49" width="12.14" height="19.77" fill="#1b868b"/>
<rect x="979.96" y="377.49" width="12.14" height="19.77" fill="#1b868b"/>
<rect x="991.50" y="377.49" width="12.14" height="19.77" fill="#1d878d"/>
<rect x="1003.04" y="377.49" width="12.14" height="19.77" fill="#1d878d"/>
<rect x="1014.58" y="377.49" width="12.14" height="19.77" fill="#1e888d"/>
<rect x="1026.12" y="377.49" width="12.14" height="19.77" fill="#1f888e"/>
<rect x="1037.66" y="377.49" width="12.14" height="19.77" fill="#20898e"/>
<rect x="1049.20" y="377.49" width="12.14" height="19.77" fill="#20898e"/>
<rect x="1060.74" y="377.49" width="12.14" height="19.77" fill="#20898e"/>
<rect x="1072.28" y="377.49" width="12.14" height="19.77" fill="#238a90"/>
<rect x="1083.81" y="377.49" width="12.14" height="19.77" fill="#248b90"/>
<rect x="1095.35" y="377.49" width="12.14" height="19.77" fill="#248b90"/>
<rect x="1106.89" y="377.49" width="12.14" height="19.77" fill="#258b91"/>
<rect x="1118.43" y="377.49" width="12.14" height="19.77" fill="#268c91"/>
<rect x="1129.97" y="377.49" width="12.14" height="19.77" fill="#258b91"/>
<rect x="1141.51" y="377.49" width="12.14" height="19.77" fill="#278c92"/>
<rect x="1153.05" y="377.49" width="12.14" height="19.77" fill="#278c92"/>
<rect x="1164.59" y="377.49" width="12.14" height="19.77" fill="#278c92"/>
<rect x="1176.13" y="377.49" width="12.14" height="19.77" fill="#278d92"/>
<rect x="1187.67" y="377.49" width="12.14" height="19.77" fill="#2a8e94"/>
<rect x="1199.20" y="377.49" width="12.14" height="19.77" fill="#288d93"/>
<rect x="1210.74" y="377.49" width="12.14" height="19.77" fill="#2c8f95"/>
<rect x="1222.28" y="377.49" width="12.14" height="19.77" fill="#2d9096"/>
<rect x="1233.82" y="377.49" width="12.14" height="19.77" fill="#2c8f95"/>
<rect x="1245.36" y="377.49" width="12.14" height="19.77" fill="#2c8f95"/>
<rect x="783.80" y="358.32" width="12.14" height="19.77" fill="#2e9096"/>
<rect x="795.34" y="358.32" width="12.14" height="19.77" fill="#128186"/>
<rect x="806.88" y="358.32" width="12.14" height="19.77" fill="#128186"/>
<rect x="818.42" y="358.32" width="12.14" height="19.77" fill="#138287"/>
<rect x="829.96" y="358.32" width="12.14" height="19.77" fill="#148287"/>
<rect x="841.50" y="358.32" width="12.14" height="19.77" fill="#158388"/>
<rect x="853.03" y="358.32" width="12.14" height="19.77" fill="#168488"/>
<rect x="864.57" y="358.32" width="12.14" height="19.77" fill="#188489"/>
<rect x="876.11" y="358.32" width="12.14" height="19.77" fill="#19858a"/>
<rect x="887.65" y="358.32" width="12.14" height="19.77" fill="#1a868b"/>
<rect x="899.19" y="358.32" width="12.14" height="19.77" fill="#1c878c"/>
<rect x="910.73" y="358.32" width="12.14" height="19.77" fill="#1d878c"/>
<rect x="922.27" y="358.32" width="12.14" height="19.77" fill="#1e888d"/>
<rect x="933.81" y="358.32" width="12.14" height="19.77" fill="#20898e"/>
<rect x="945.35" y="358.32" width="12.14" height="19.77" fill="#238a90"/>
<rect x="956.89" y="358.32" width="12.14" height="19.77" fill="#248b91"/>
<rect x="968.42" y="358.32" width="12.14" height="19.77" fill="#258c91"/>
<rect x="979.96" y="358.32" width="12.14" height="19.77" fill="#268c91"/>
<rect x="991.50" y="358.32" width="12.14" height="19.77" fill="#278d92"/>
<rect x="1003.04" y="358.32" width="12.14" height="19.77" fill="#288d93"/>
<rect x="1014.58" y="358.32" width="12.14" height="19.77" fill="#298e93"/>
<rect x="1026.12" y="358.32" width="12.14" height="19.77" fill="#298d93"/>
<rect x="1037.66" y="358.32" width="12.14" height="19.77" fill="#2d9096"/>
<rect x="1049.20" y="358.32" width="12.14" height="19.77" fill="#2b8f94"/>
<rect x="1060.74" y="358.32" width="12.14" height="19.77" fill="#2f9197"/>
<rect x="1072.28" y="358.32" width="12.14" height="19.77" fill="#309197"/>
<rect x="1083.81" y="358.32" width="12.14" height="19.77" fill="#2d9096"/>
<rect x="1095.35" y="358.32" width="12.14" height="19.77" fill="#309197"/>
<rect x="1106.89" y="358.32" width="12.14" height="19.77" fill="#329299"/>
<rect x="1118.43" y="358.32" width="12.14" height="19.77" fill="#349399"/>
<rect x="1129.97" y="358.32" width="12.14" height="19.77" fill="#329298"/>
<rect x="1141.51" y="358.32" width="12.14" height="19.77" fill="#329298"/>
<rect x="1153.05" y="358.32" width="12.14" height="19.77" fill="#329298"/>
<rect x="1164.59" y="358.32" width="12.14" height="19.77" fill="#36949b"/>
<rect x="1176.13" y="358.32" width="12.14" height="19.77" fill="#339399"/>
<rect x="1187.67" y="358.32" width="12.14" height="19.77" fill="#36949b"/>
<rect x="1199.20" y="358.32" width="12.14" height="19.77" fill="#34939a"/>
<rect x="1210.74" y="358.32" width="12.14" height="19.77" fill="#37959b"/>
<rect x="1222.28" y="358.32" width="12.14" height="19.77" fill="#39969d"/>
<rect x="1233.82" y="358.32" width="12.14" height="19.77" fill="#36949b"/>
<rect x="1245.36" y="358.32" width="12.14" height="19.77" fill="#3a969d"/>
<rect x="783.80" y="339.15" width="12.14" height="19.77" fill="#2f9197"/>
<rect x="795.34" y="339.15" width="12.14" height="19.77" fill="#168489"/>
<rect x="806.88" y="339.15" width="12.14" height="19.77" fill="#18858a"/>
<rect x="818.42" y="339.15" width="12.14" height="19.77" fill="#1a858a"/>
<rect x="829.96" y="339.15" width="12.14" height="19.77" fill="#1d878c"/>
<rect x="841.50" y="339.15" width="12.14" height="19.77" fill="#1e888d"/>
<rect x="853.03" y="339.15" width="12.14" height="19.77" fill="#1f888e"/>
<rect x="864.57" y="339.15" width="12.14" height="19.77" fill="#20898e"/>
<rect x="876.11" y="339.15" width="12.14" height="19.77" fill="#238a90"/>
<rect x="887.65" y="339.15" width="12.14" height="19.77" fill="#248b90"/>
<rect x="899.19" y="339.15" width="12.14" height="19.77" fill="#258c91"/>
<rect x="910.73" y="339.15" width="12.14" height="19.77" fill="#278c92"/>
<rect x="922.27" y="339.15" width="12.14" height="19.77" fill="#298e94"/>
<rect x="933.81" y="339.15" width="12.14" height="19.77" fill="#2b8f95"/>
<rect x="945.35" y="339.15" width="12.14" height="19.77" fill="#319298"/>
<rect x="956.89" y="339.15" width="12.14" height="19.77" fill="#2e9096"/>
<rect x="968.42" y="339.15" width="12.14" height="19.77" fill="#329399"/>
<rect x="979.96" y="339.15" width="12.14" height="19.77" fill="#34939a"/>
<rect x="991.50" y="339.15" width="12.14" height="19.77" fill="#329298"/>
<rect x="1003.04" y="339.15" width="12.14" height="19.77" fill="#37959b"/>
<rect x="1014.58" y="339.15" width="12.14" height="19.77" fill="#37959b"/>
<rect x="1026.12" y="339.15" width="12.14" height="19.77" fill="#38969c"/>
<rect x="1037.66" y="339.15" width="12.14" height="19.77" fill="#36959b"/>
<rect x="1049.20" y="339.15" width="12.14" height="19.77" fill="#37959b"/>
<rect x="1060.74" y="339.15" width="12.14" height="19.77" fill="#38969c"/>
<rect x="1072.28" y="339.15" width="12.14" height="19.77" fill="#3c979e"/>
<rect x="1083.81" y="339.15" width="12.14" height="19.77" fill="#3b979d"/>
<rect x="1095.35" y="339.15" width="12.14" height="19.77" fill="#3b979d"/>
<rect x="1106.89" y="339.15" width="12.14" height="19.77" fill="#3c979e"/>
<rect x="1118.43" y="339.15" width="12.14" height="19.77" fill="#3c989e"/>
<rect x="1129.97" y="339.15" width="12.14" height="19.77" fill="#3c989e"/>
<rect x="1141.51" y="339.15" width="12.14" height="19.77" fill="#3d989f"/>
<rect x="1153.05" y="339.15" width="12.14" height="19.77" fill="#429ba1"/>
<rect x="1164.59" y="339.15" width="12.14" height="19.77" fill="#409aa0"/>
<rect x="1176.13" y="339.15" width="12.14" height="19.77" fill="#449ca3"/>
<rect x="1187.67" y="339.15" width="12.14" height="19.77" fill="#429ba1"/>
<rect x="1199.20" y="339.15" width="12.14" height="19.77" fill="#439ba2"/>
<rect x="1210.74" y="339.15" width="12.14" height="19.77" fill="#459da3"/>
<rect x="1222.28" y="339.15" width="12.14" height="19.77" fill="#459ca3"/>
<rect x="1233.82" y="339.15" width="12.14" height="19.77" fill="#479da4"/>
<rect x="1245.36" y="339.15" width="12.14" height="19.77" fill="#4b9fa6"/>
<rect x="783.80" y="319.98" width="12.14" height="19.77" fill="#329298"/>
<rect x="795.34" y="319.98" width="12.14" height="19.77" fill="#19858a"/>
<rect x="806.88" y="319.98" width="12.14" height="19.77" fill="#1c878c"/>
<rect x="818.42" y="319.98" width="12.14" height="19.77" fill="#20898e"/>
<rect x="829.96" y="319.98" width="12.14" height="19.77" fill="#238b90"/>
<rect x="841.50" y="319.98" width="12.14" height="19.77" fill="#268c92"/>
<rect x="853.03" y="319.98" width="12.14" height="19.77" fill="#2a8e94"/>
<rect x="864.57" y="319.98" width="12.14" height="19.77" fill="#2a8e94"/>
<rect x="876.11" y="319.98" width="12.14" height="19.77" fill="#2f9197"/>
<rect x="887.65" y="319.98" width="12.14" height="19.77" fill="#309197"/>
<rect x="899.19" y="319.98" width="12.14" height="19.77" fill="#34939a"/>
<rect x="910.73" y="319.98" width="12.14" height="19.77" fill="#36949b"/>
<rect x="922.27" y="319.98" width="12.14" height="19.77" fill="#37959b"/>
<rect x="933.81" y="319.98" width="12.14" height="19.77" fill="#38969c"/>
<rect x="945.35" y="319.98" width="12.14" height="19.77" fill="#419aa1"/>
<rect x="956.89" y="319.98" width="12.14" height="19.77" fill="#3f99a0"/>
<rect x="968.42" y="319.98" width="12.14" height="19.77" fill="#429ba2"/>
<rect x="979.96" y="319.98" width="12.14" height="19.77" fill="#439ba2"/>
<rect x="991.50" y="319.98" width="12.14" height="19.77" fill="#459ca3"/>
<rect x="1003.04" y="319.98" width="12.14" height="19.77" fill="#489ea5"/>
<rect x="1014.58" y="319.98" width="12.14" height="19.77" fill="#4ba0a6"/>
<rect x="1026.12" y="319.98" width="12.14" height="19.77" fill="#499fa6"/>
<rect x="1037.66" y="319.98" width="12.14" height="19.77" fill="#4da1a8"/>
<rect x="1049.20" y="319.98" width="12.14" height="19.77" fill="#4da1a8"/>
<rect x="1060.74" y="319.98" width="12.14" height="19.77" fill="#50a2a9"/>
<rect x="1072.28" y="319.98" width="12.14" height="19.77" fill="#51a3aa"/>
<rect x="1083.81" y="319.98" width="12.14" height="19.77" fill="#52a3aa"/>
<rect x="1095.35" y="319.98" width="12.14" height="19.77" fill="#54a4ab"/>
<rect x="1106.89" y="319.98" width="12.14" height="19.77" fill="#56a5ac"/>
<rect x="1118.43" y="319.98" width="12.14" height="19.77" fill="#5ba8af"/>
<rect x="1129.97" y="319.98" width="12.14" height="19.77" fill="#5aa8af"/>
<rect x="1141.51" y="319.98" width="12.14" height="19.77" fill="#5ba8af"/>
<rect x="1153.05" y="319.98" width="12.14" height="19.77" fill="#60aab2"/>
<rect x="1164.59" y="319.98" width="12.14" height="19.77" fill="#62acb3"/>
<rect x="1176.13" y="319.98" width="12.14" height="19.77" fill="#61abb2"/>
<rect x="1187.67" y="319.98" width="12.14" height="19.77" fill="#61abb3"/>
<rect x="1199.20" y="319.98" width="12.14" height="19.77" fill="#63adb4"/>
<rect x="1210.74" y="319.98" width="12.14" height="19.77" fill="#65adb4"/>
<rect x="1222.28" y="319.98" width="12.14" height="19.77" fill="#68afb6"/>
<rect x="1233.82" y="319.98" width="12.14" height="19.77" fill="#69afb7"/>
<rect x="1245.36" y="319.98" width="12.14" height="19.77" fill="#6bb1b8"/>
<rect x="783.80" y="300.82" width="12.14" height="19.77" fill="#319198"/>
<rect x="795.34" y="300.82" width="12.14" height="19.77" fill="#1c878c"/>
<rect x="806.88" y="300.82" width="12.14" height="19.77" fill="#21898f"/>
<rect x="818.42" y="300.82" width="12.14" height="19.77" fill="#278c92"/>
<rect x="829.96" y="300.82" width="12.14" height="19.77" fill="#2c8f95"/>
<rect x="841.50" y="300.82" width="12.14" height="19.77" fill="#319298"/>
<rect x="853.03" y="300.82" width="12.14" height="19.77" fill="#36949b"/>
<rect x="864.57" y="300.82" width="12.14" height="19.77" fill="#38969c"/>
<rect x="876.11" y="300.82" width="12.14" height="19.77" fill="#3b979e"/>
<rect x="887.65" y="300.82" width="12.14" height="19.77" fill="#3f99a0"/>
<rect x="899.19" y="300.82" width="12.14" height="19.77" fill="#459ca3"/>
<rect x="910.73" y="300.82" width="12.14" height="19.77" fill="#4da1a8"/>
<rect x="922.27" y="300.82" width="12.14" height="19.77" fill="#4ea1a8"/>
<rect x="933.81" y="300.82" width="12.14" height="19.77" fill="#55a5ac"/>
<rect x="945.35" y="300.82" width="12.14" height="19.77" fill="#5da9b0"/>
<rect x="956.89" y="300.82" width="12.14" height="19.77" fill="#61abb2"/>
<rect x="968.42" y="300.82" width="12.14" height="19.77" fill="#60abb2"/>
<rect x="979.96" y="300.82" width="12.14" height="19.77" fill="#63acb4"/>
<rect x="991.50" y="300.82" width="12.14" height="19.77" fill="#66aeb5"/>
<rect x="1003.04" y="300.82" width="12.14" height="19.77" fill="#69b0b7"/>
<rect x="1014.58" y="300.82" width="12.14" height="19.77" fill="#6cb1b8"/>
<rect x="1026.12" y="300.82" width="12.14" height="19.77" fill="#71b4bb"/>
<rect x="1037.66" y="300.82" width="12.14" height="19.77" fill="#72b4bc"/>
<rect x="1049.20" y="300.82" width="12.14" height="19.77" fill="#75b6bd"/>
<rect x="1060.74" y="300.82" width="12.14" height="19.77" fill="#73b5bc"/>
<rect x="1072.28" y="300.82" width="12.14" height="19.77" fill="#75b6bd"/>
<rect x="1083.81" y="300.82" width="12.14" height="19.77" fill="#7ab9c0"/>
<rect x="1095.35" y="300.82" width="12.14" height="19.77" fill="#7dbac1"/>
<rect x="1106.89" y="300.82" width="12.14" height="19.77" fill="#7dbac1"/>
<rect x="1118.43" y="300.82" width="12.14" height="19.77" fill="#7fbbc2"/>
<rect x="1129.97" y="300.82" width="12.14" height="19.77" fill="#7dbac1"/>
<rect x="1141.51" y="300.82" width="12.14" height="19.77" fill="#81bcc3"/>
<rect x="1153.05" y="300.82" width="12.14" height="19.77" fill="#85bec5"/>
<rect x="1164.59" y="300.82" width="12.14" height="19.77" fill="#86bfc6"/>
<rect x="1176.13" y="300.82" width="12.14" height="19.77" fill="#87c0c7"/>
<rect x="1187.67" y="300.82" width="12.14" height="19.77" fill="#8ac1c8"/>
<rect x="1199.20" y="300.82" width="12.14" height="19.77" fill="#89c0c7"/>
<rect x="1210.74" y="300.82" width="12.14" height="19.77" fill="#8ac1c8"/>
<rect x="1222.28" y="300.82" width="12.14" height="19.77" fill="#8cc2c9"/>
<rect x="1233.82" y="300.82" width="12.14" height="19.77" fill="#90c4cb"/>
<rect x="1245.36" y="300.82" width="12.14" height="19.77" fill="#92c5cc"/>
<rect x="783.80" y="281.65" width="12.14" height="19.77" fill="#349399"/>
<rect x="795.34" y="281.65" width="12.14" height="19.77" fill="#1e888d"/>
<rect x="806.88" y="281.65" width="12.14" height="19.77" fill="#268c91"/>
<rect x="818.42" y="281.65" width="12.14" height="19.77" fill="#2e9096"/>
<rect x="829.96" y="281.65" width="12.14" height="19.77" fill="#35949a"/>
<rect x="841.50" y="281.65" width="12.14" height="19.77" fill="#3c979e"/>
<rect x="853.03" y="281.65" width="12.14" height="19.77" fill="#409aa0"/>
<rect x="864.57" y="281.65" width="12.14" height="19.77" fill="#499ea5"/>
<rect x="876.11" y="281.65" width="12.14" height="19.77" fill="#4da0a7"/>
<rect x="887.65" y="281.65" width="12.14" height="19.77" fill="#57a6ad"/>
<rect x="899.19" y="281.65" width="12.14" height="19.77" fill="#5da9b0"/>
<rect x="910.73" y="281.65" width="12.14" height="19.77" fill="#62acb3"/>
<rect x="922.27" y="281.65" width="12.14" height="19.77" fill="#67afb6"/>
<rect x="933.81" y="281.65" width="12.14" height="19.77" fill="#6eb2ba"/>
<rect x="945.35" y="281.65" width="12.14" height="19.77" fill="#7fbbc2"/>
<rect x="956.89" y="281.65" width="12.14" height="19.77" fill="#82bdc4"/>
<rect x="968.42" y="281.65" width="12.14" height="19.77" fill="#83bdc4"/>
<rect x="979.96" y="281.65" width="12.14" height="19.77" fill="#86bfc6"/>
<rect x="991.50" y="281.65" width="12.14" height="19.77" fill="#8bc2c8"/>
<rect x="1003.04" y="281.65" width="12.14" height="19.77" fill="#8fc3ca"/>
<rect x="1014.58" y="281.65" width="12.14" height="19.77" fill="#91c5cb"/>
<rect x="1026.12" y="281.65" width="12.14" height="19.77" fill="#93c6cc"/>
<rect x="1037.66" y="281.65" width="12.14" height="19.77" fill="#97c8ce"/>
<rect x="1049.20" y="281.65" width="12.14" height="19.77" fill="#96c7ce"/>
<rect x="1060.74" y="281.65" width="12.14" height="19.77" fill="#9ac9d0"/>
<rect x="1072.28" y="281.65" width="12.14" height="19.77" fill="#9dcbd1"/>
<rect x="1083.81" y="281.65" width="12.14" height="19.77" fill="#a2ced4"/>
<rect x="1095.35" y="281.65" width="12.14" height="19.77" fill="#a3ced4"/>
<rect x="1106.89" y="281.65" width="12.14" height="19.77" fill="#a5cfd5"/>
<rect x="1118.43" y="281.65" width="12.14" height="19.77" fill="#a5cfd5"/>
<rect x="1129.97" y="281.65" width="12.14" height="19.77" fill="#a5cfd5"/>
<rect x="1141.51" y="281.65" width="12.14" height="19.77" fill="#a6d0d6"/>
<rect x="1153.05" y="281.65" width="12.14" height="19.77" fill="#abd2d8"/>
<rect x="1164.59" y="281.65" width="12.14" height="19.77" fill="#abd3d8"/>
<rect x="1176.13" y="281.65" width="12.14" height="19.77" fill="#abd2d8"/>
<rect x="1187.67" y="281.65" width="12.14" height="19.77" fill="#abd2d8"/>
<rect x="1199.20" y="281.65" width="12.14" height="19.77" fill="#afd4da"/>
<rect x="1210.74" y="281.65" width="12.14" height="19.77" fill="#b1d6db"/>
<rect x="1222.28" y="281.65" width="12.14" height="19.77" fill="#b1d6db"/>
<rect x="1233.82" y="281.65" width="12.14" height="19.77" fill="#b2d6dc"/>
<rect x="1245.36" y="281.65" width="12.14" height="19.77" fill="#b5d8dd"/>
<rect x="783.80" y="262.48" width="12.14" height="19.77" fill="#36959b"/>
<rect x="795.34" y="262.48" width="12.14" height="19.77" fill="#20898e"/>
<rect x="806.88" y="262.48" width="12.14" height="19.77" fill="#288d93"/>
<rect x="818.42" y="262.48" width="12.14" height="19.77" fill="#349399"/>
<rect x="829.96" y="262.48" width="12.14" height="19.77" fill="#3f99a0"/>
<rect x="841.50" y="262.48" width="12.14" height="19.77" fill="#489ea5"/>
<rect x="853.03" y="262.48" width="12.14" height="19.77" fill="#4ea1a8"/>
<rect x="864.57" y="262.48" width="12.14" height="19.77" fill="#58a7ae"/>
<rect x="876.11" y="262.48" width="12.14" height="19.77" fill="#60abb2"/>
<rect x="887.65" y="262.48" width="12.14" height="19.77" fill="#67afb6"/>
<rect x="899.19" y="262.48" width="12.14" height="19.77" fill="#6eb2b9"/>
<rect x="910.73" y="262.48" width="12.14" height="19.77" fill="#7ab8bf"/>
<rect x="922.27" y="262.48" width="12.14" height="19.77" fill="#7fbbc2"/>
<rect x="933.81" y="262.48" width="12.14" height="19.77" fill="#89c1c7"/>
<rect x="945.35" y="262.48" width="12.14" height="19.77" fill="#90c4cb"/>
<rect x="956.89" y="262.48" width="12.14" height="19.77" fill="#a7d1d7"/>
<rect x="968.42" y="262.48" width="12.14" height="19.77" fill="#add4d9"/>
<rect x="979.96" y="262.48" width="12.14" height="19.77" fill="#aed4da"/>
<rect x="991.50" y="262.48" width="12.14" height="19.77" fill="#b4d7dd"/>
<rect x="1003.04" y="262.48" width="12.14" height="19.77" fill="#b5d8dd"/>
<rect x="1014.58" y="262.48" width="12.14" height="19.77" fill="#b7d9de"/>
<rect x="1026.12" y="262.48" width="12.14" height="19.77" fill="#b9dadf"/>
<rect x="1037.66" y="262.48" width="12.14" height="19.77" fill="#bcdbe0"/>
<rect x="1049.20" y="262.48" width="12.14" height="19.77" fill="#bedde2"/>
<rect x="1060.74" y="262.48" width="12.14" height="19.77" fill="#c2dee3"/>
<rect x="1072.28" y="262.48" width="12.14" height="19.77" fill="#c0dde2"/>
<rect x="1083.81" y="262.48" width="12.14" height="19.77" fill="#c3dfe4"/>
<rect x="1095.35" y="262.48" width="12.14" height="19.77" fill="#c4e0e4"/>
<rect x="1106.89" y="262.48" width="12.14" height="19.77" fill="#c8e2e6"/>
<rect x="1118.43" y="262.48" width="12.14" height="19.77" fill="#c6e1e5"/>
<rect x="1129.97" y="262.48" width="12.14" height="19.77" fill="#c6e1e5"/>
<rect x="1141.51" y="262.48" width="12.14" height="19.77" fill="#c7e1e6"/>
<rect x="1153.05" y="262.48" width="12.14" height="19.77" fill="#cae3e7"/>
<rect x="1164.59" y="262.48" width="12.14" height="19.77" fill="#cde4e8"/>
<rect x="1176.13" y="262.48" width="12.14" height="19.77" fill="#cee5e9"/>
<rect x="1187.67" y="262.48" width="12.14" height="19.77" fill="#cee5e9"/>
<rect x="1199.20" y="262.48" width="12.14" height="19.77" fill="#d0e6ea"/>
<rect x="1210.74" y="262.48" width="12.14" height="19.77" fill="#d0e6ea"/>
<rect x="1222.28" y="262.48" width="12.14" height="19.77" fill="#cee5e9"/>
<rect x="1233.82" y="262.48" width="12.14" height="19.77" fill="#cee5e9"/>
<rect x="1245.36" y="262.48" width="12.14" height="19.77" fill="#d2e7eb"/>
<rect x="783.80" y="243.31" width="12.14" height="19.77" fill="#36949b"/>
<rect x="795.34" y="243.31" width="12.14" height="19.77" fill="#228a8f"/>
<rect x="806.88" y="243.31" width="12.14" height="19.77" fill="#2d8f95"/>
<rect x="818.42" y="243.31" width="12.14" height="19.77" fill="#38969c"/>
<rect x="829.96" y="243.31" width="12.14" height="19.77" fill="#459da3"/>
<rect x="841.50" y="243.31" width="12.14" height="19.77" fill="#4fa2a9"/>
<rect x="853.03" y="243.31" width="12.14" height="19.77" fill="#58a6ae"/>
<rect x="864.57" y="243.31" width="12.14" height="19.77" fill="#62acb3"/>
<rect x="876.11" y="243.31" width="12.14" height="19.77" fill="#6fb2ba"/>
<rect x="887.65" y="243.31" width="12.14" height="19.77" fill="#79b8bf"/>
<rect x="899.19" y="243.31" width="12.14" height="19.77" fill="#85bec5"/>
<rect x="910.73" y="243.31" width="12.14" height="19.77" fill="#8ac1c8"/>
<rect x="922.27" y="243.31" width="12.14" height="19.77" fill="#96c7ce"/>
<rect x="933.81" y="243.31" width="12.14" height="19.77" fill="#9bcad0"/>
<rect x="945.35" y="243.31" width="12.14" height="19.77" fill="#a3ced5"/>
<rect x="956.89" y="243.31" width="12.14" height="19.77" fill="#b6d8de"/>
<rect x="968.42" y="243.31" width="12.14" height="19.77" fill="#b9dadf"/>
<rect x="979.96" y="243.31" width="12.14" height="19.77" fill="#badbe0"/>
<rect x="991.50" y="243.31" width="12.14" height="19.77" fill="#bcdbe0"/>
<rect x="1003.04" y="243.31" width="12.14" height="19.77" fill="#c1dee3"/>
<rect x="1014.58" y="243.31" width="12.14" height="19.77" fill="#c4e0e4"/>
<rect x="1026.12" y="243.31" width="12.14" height="19.77" fill="#c8e2e6"/>
<rect x="1037.66" y="243.31" width="12.14" height="19.77" fill="#c6e1e5"/>
<rect x="1049.20" y="243.31" width="12.14" height="19.77" fill="#c9e2e7"/>
<rect x="1060.74" y="243.31" width="12.14" height="19.77" fill="#cde4e9"/>
<rect x="1072.28" y="243.31" width="12.14" height="19.77" fill="#cbe3e7"/>
<rect x="1083.81" y="243.31" width="12.14" height="19.77" fill="#cee5e9"/>
<rect x="1095.35" y="243.31" width="12.14" height="19.77" fill="#d2e7eb"/>
<rect x="1106.89" y="243.31" width="12.14" height="19.77" fill="#d3e8eb"/>
<rect x="1118.43" y="243.31" width="12.14" height="19.77" fill="#d1e6ea"/>
<rect x="1129.97" y="243.31" width="12.14" height="19.77" fill="#d2e7eb"/>
<rect x="1141.51" y="243.31" width="12.14" height="19.77" fill="#d3e8eb"/>
<rect x="1153.05" y="243.31" width="12.14" height="19.77" fill="#d8eaee"/>
<rect x="1164.59" y="243.31" width="12.14" height="19.77" fill="#d6e9ed"/>
<rect x="1176.13" y="243.31" width="12.14" height="19.77" fill="#d9ebee"/>
<rect x="1187.67" y="243.31" width="12.14" height="19.77" fill="#dbecef"/>
<rect x="1199.20" y="243.31" width="12.14" height="19.77" fill="#daebee"/>
<rect x="1210.74" y="243.31" width="12.14" height="19.77" fill="#dbecef"/>
<rect x="1222.28" y="243.31" width="12.14" height="19.77" fill="#dfeef1"/>
<rect x="1233.82" y="243.31" width="12.14" height="19.77" fill="#dfeef1"/>
<rect x="1245.36" y="243.31" width="12.14" height="19.77" fill="#deeef0"/>
<rect x="783.80" y="224.15" width="12.14" height="19.77" fill="#36949b"/>
<rect x="795.34" y="224.15" width="12.14" height="19.77" fill="#258c91"/>
<rect x="806.88" y="224.15" width="12.14" height="19.77" fill="#309198"/>
<rect x="818.42" y="224.15" width="12.14" height="19.77" fill="#3e989f"/>
<rect x="829.96" y="224.15" width="12.14" height="19.77" fill="#4ea1a8"/>
<rect x="841.50" y="224.15" width="12.14" height="19.77" fill="#59a7ae"/>
<rect x="853.03" y="224.15" width="12.14" height="19.77" fill="#61abb3"/>
<rect x="864.57" y="224.15" width="12.14" height="19.77" fill="#6fb3ba"/>
<rect x="876.11" y="224.15" width="12.14" height="19.77" fill="#77b7be"/>
<rect x="887.65" y="224.15" width="12.14" height="19.77" fill="#7fbbc2"/>
<rect x="899.19" y="224.15" width="12.14" height="19.77" fill="#88c0c7"/>
<rect x="910.73" y="224.15" width="12.14" height="19.77" fill="#91c4cb"/>
<rect x="922.27" y="224.15" width="12.14" height="19.77" fill="#97c8cf"/>
<rect x="933.81" y="224.15" width="12.14" height="19.77" fill="#9ccad1"/>
<rect x="945.35" y="224.15" width="12.14" height="19.77" fill="#a1cdd3"/>
<rect x="956.89" y="224.15" width="12.14" height="19.77" fill="#afd5da"/>
<rect x="968.42" y="224.15" width="12.14" height="19.77" fill="#b2d6dc"/>
<rect x="979.96" y="224.15" width="12.14" height="19.77" fill="#b7d9de"/>
<rect x="991.50" y="224.15" width="12.14" height="19.77" fill="#b7d9de"/>
<rect x="1003.04" y="224.15" width="12.14" height="19.77" fill="#bddce1"/>
<rect x="1014.58" y="224.15" width="12.14" height="19.77" fill="#bfdde2"/>
<rect x="1026.12" y="224.15" width="12.14" height="19.77" fill="#c2dee3"/>
<rect x="1037.66" y="224.15" width="12.14" height="19.77" fill="#c4dfe4"/>
<rect x="1049.20" y="224.15" width="12.14" height="19.77" fill="#c5e0e5"/>
<rect x="1060.74" y="224.15" width="12.14" height="19.77" fill="#c6e1e5"/>
<rect x="1072.28" y="224.15" width="12.14" height="19.77" fill="#c9e2e6"/>
<rect x="1083.81" y="224.15" width="12.14" height="19.77" fill="#cbe4e8"/>
<rect x="1095.35" y="224.15" width="12.14" height="19.77" fill="#d0e6ea"/>
<rect x="1106.89" y="224.15" width="12.14" height="19.77" fill="#cee5e9"/>
<rect x="1118.43" y="224.15" width="12.14" height="19.77" fill="#d0e6ea"/>
<rect x="1129.97" y="224.15" width="12.14" height="19.77" fill="#d4e8ec"/>
<rect x="1141.51" y="224.15" width="12.14" height="19.77" fill="#d3e8eb"/>
<rect x="1153.05" y="224.15" width="12.14" height="19.77" fill="#d3e8ec"/>
<rect x="1164.59" y="224.15" width="12.14" height="19.77" fill="#d5e9ec"/>
<rect x="1176.13" y="224.15" width="12.14" height="19.77" fill="#d9ebee"/>
<rect x="1187.67" y="224.15" width="12.14" height="19.77" fill="#d9ebee"/>
<rect x="1199.20" y="224.15" width="12.14" height="19.77" fill="#ddedf0"/>
<rect x="1210.74" y="224.15" width="12.14" height="19.77" fill="#ddedf0"/>
<rect x="1222.28" y="224.15" width="12.14" height="19.77" fill="#dfeef1"/>
<rect x="1233.82" y="224.15" width="12.14" height="19.77" fill="#ddedf0"/>
<rect x="1245.36" y="224.15" width="12.14" height="19.77" fill="#ddedf0"/>
<rect x="783.80" y="204.98" width="12.14" height="19.77" fill="#35949a"/>
<rect x="795.34" y="204.98" width="12.14" height="19.77" fill="#288d92"/>
<rect x="806.88" y="204.98" width="12.14" height="19.77" fill="#36949b"/>
<rect x="818.42" y="204.98" width="12.14" height="19.77" fill="#499ea5"/>
<rect x="829.96" y="204.98" width="12.14" height="19.77" fill="#56a6ad"/>
<rect x="841.50" y="204.98" width="12.14" height="19.77" fill="#63acb4"/>
<rect x="853.03" y="204.98" width="12.14" height="19.77" fill="#70b3ba"/>
<rect x="864.57" y="204.98" width="12.14" height="19.77" fill="#77b7be"/>
<rect x="876.11" y="204.98" width="12.14" height="19.77" fill="#7fbbc2"/>
<rect x="887.65" y="204.98" width="12.14" height="19.77" fill="#84bec5"/>
<rect x="899.19" y="204.98" width="12.14" height="19.77" fill="#89c0c7"/>
<rect x="910.73" y="204.98" width="12.14" height="19.77" fill="#8bc1c8"/>
<rect x="922.27" y="204.98" width="12.14" height="19.77" fill="#93c6cc"/>
<rect x="933.81" y="204.98" width="12.14" height="19.77" fill="#95c7ce"/>
<rect x="945.35" y="204.98" width="12.14" height="19.77" fill="#a5cfd5"/>
<rect x="956.89" y="204.98" width="12.14" height="19.77" fill="#a6d0d6"/>
<rect x="968.42" y="204.98" width="12.14" height="19.77" fill="#a9d2d7"/>
<rect x="979.96" y="204.98" width="12.14" height="19.77" fill="#a8d1d7"/>
<rect x="991.50" y="204.98" width="12.14" height="19.77" fill="#aad2d8"/>
<rect x="1003.04" y="204.98" width="12.14" height="19.77" fill="#acd3d9"/>
<rect x="1014.58" y="204.98" width="12.14" height="19.77" fill="#add4d9"/>
<rect x="1026.12" y="204.98" width="12.14" height="19.77" fill="#b2d6dc"/>
<rect x="1037.66" y="204.98" width="12.14" height="19.77" fill="#b2d6dc"/>
<rect x="1049.20" y="204.98" width="12.14" height="19.77" fill="#b3d7dc"/>
<rect x="1060.74" y="204.98" width="12.14" height="19.77" fill="#b5d8dd"/>
<rect x="1072.28" y="204.98" width="12.14" height="19.77" fill="#b9dadf"/>
<rect x="1083.81" y="204.98" width="12.14" height="19.77" fill="#b9dadf"/>
<rect x="1095.35" y="204.98" width="12.14" height="19.77" fill="#b9dadf"/>
<rect x="1106.89" y="204.98" width="12.14" height="19.77" fill="#bddce1"/>
<rect x="1118.43" y="204.98" width="12.14" height="19.77" fill="#bddce1"/>
<rect x="1129.97" y="204.98" width="12.14" height="19.77" fill="#c0dde2"/>
<rect x="1141.51" y="204.98" width="12.14" height="19.77" fill="#bddce1"/>
<rect x="1153.05" y="204.98" width="12.14" height="19.77" fill="#c0dde2"/>
<rect x="1164.59" y="204.98" width="12.14" height="19.77" fill="#c2dfe4"/>
<rect x="1176.13" y="204.98" width="12.14" height="19.77" fill="#c4dfe4"/>
<rect x="1187.67" y="204.98" width="12.14" height="19.77" fill="#c5e0e5"/>
<rect x="1199.20" y="204.98" width="12.14" height="19.77" fill="#c2dfe4"/>
<rect x="1210.74" y="204.98" width="12.14" height="19.77" fill="#c5e0e5"/>
<rect x="1222.28" y="204.98" width="12.14" height="19.77" fill="#c5e0e5"/>
<rect x="1233.82" y="204.98" width="12.14" height="19.77" fill="#c7e1e6"/>
<rect x="1245.36" y="204.98" width="12.14" height="19.77" fill="#cce4e8"/>
<rect x="783.80" y="185.81" width="12.14" height="19.77" fill="#39969c"/>
<rect x="795.34" y="185.81" width="12.14" height="19.77" fill="#2a8e94"/>
<rect x="806.88" y="185.81" width="12.14" height="19.77" fill="#3b979d"/>
<rect x="818.42" y="185.81" width="12.14" height="19.77" fill="#54a5ac"/>
<rect x="829.96" y="185.81" width="12.14" height="19.77" fill="#61abb2"/>
<rect x="841.50" y="185.81" width="12.14" height="19.77" fill="#6ab0b7"/>
<rect x="853.03" y="185.81" width="12.14" height="19.77" fill="#76b7be"/>
<rect x="864.57" y="185.81" width="12.14" height="19.77" fill="#7dbac1"/>
<rect x="876.11" y="185.81" width="12.14" height="19.77" fill="#80bcc3"/>
<rect x="887.65" y="185.81" width="12.14" height="19.77" fill="#86bfc6"/>
<rect x="899.19" y="185.81" width="12.14" height="19.77" fill="#8ac1c8"/>
<rect x="910.73" y="185.81" width="12.14" height="19.77" fill="#8dc2c9"/>
<rect x="922.27" y="185.81" width="12.14" height="19.77" fill="#92c5cc"/>
<rect x="933.81" y="185.81" width="12.14" height="19.77" fill="#95c7cd"/>
<rect x="945.35" y="185.81" width="12.14" height="19.77" fill="#9fccd2"/>
<rect x="956.89" y="185.81" width="12.14" height="19.77" fill="#a1cdd3"/>
<rect x="968.42" y="185.81" width="12.14" height="19.77" fill="#a5cfd5"/>
<rect x="979.96" y="185.81" width="12.14" height="19.77" fill="#a7d0d6"/>
<rect x="991.50" y="185.81" width="12.14" height="19.77" fill="#a7d0d6"/>
<rect x="1003.04" y="185.81" width="12.14" height="19.77" fill="#a8d1d7"/>
<rect x="1014.58" y="185.81" width="12.14" height="19.77" fill="#acd3d9"/>
<rect x="1026.12" y="185.81" width="12.14" height="19.77" fill="#b0d5db"/>
<rect x="1037.66" y="185.81" width="12.14" height="19.77" fill="#b0d5db"/>
<rect x="1049.20" y="185.81" width="12.14" height="19.77" fill="#b3d7dc"/>
<rect x="1060.74" y="185.81" width="12.14" height="19.77" fill="#b5d8dd"/>
<rect x="1072.28" y="185.81" width="12.14" height="19.77" fill="#badadf"/>
<rect x="1083.81" y="185.81" width="12.14" height="19.77" fill="#bbdbe0"/>
<rect x="1095.35" y="185.81" width="12.14" height="19.77" fill="#bbdbe0"/>
<rect x="1106.89" y="185.81" width="12.14" height="19.77" fill="#bddce1"/>
<rect x="1118.43" y="185.81" width="12.14" height="19.77" fill="#bfdde2"/>
<rect x="1129.97" y="185.81" width="12.14" height="19.77" fill="#c2dee3"/>
<rect x="1141.51" y="185.81" width="12.14" height="19.77" fill="#c3dfe4"/>
<rect x="1153.05" y="185.81" width="12.14" height="19.77" fill="#c2dfe4"/>
<rect x="1164.59" y="185.81" width="12.14" height="19.77" fill="#c4e0e4"/>
<rect x="1176.13" y="185.81" width="12.14" height="19.77" fill="#c8e2e6"/>
<rect x="1187.67" y="185.81" width="12.14" height="19.77" fill="#c9e2e7"/>
<rect x="1199.20" y="185.81" width="12.14" height="19.77" fill="#cae3e7"/>
<rect x="1210.74" y="185.81" width="12.14" height="19.77" fill="#cce4e8"/>
<rect x="1222.28" y="185.81" width="12.14" height="19.77" fill="#d1e7ea"/>
<rect x="1233.82" y="185.81" width="12.14" height="19.77" fill="#d0e6ea"/>
<rect x="1245.36" y="185.81" width="12.14" height="19.77" fill="#d3e8eb"/>
<rect x="783.80" y="166.64" width="12.14" height="19.77" fill="#38969c"/>
<rect x="795.34" y="166.64" width="12.14" height="19.77" fill="#298e93"/>
<rect x="806.88" y="166.64" width="12.14" height="19.77" fill="#3e999f"/>
<rect x="818.42" y="166.64" width="12.14" height="19.77" fill="#59a7ae"/>
<rect x="829.96" y="166.64" width="12.14" height="19.77" fill="#64adb4"/>
<rect x="841.50" y="166.64" width="12.14" height="19.77" fill="#6db2b9"/>
<rect x="853.03" y="166.64" width="12.14" height="19.77" fill="#78b7bf"/>
<rect x="864.57" y="166.64" width="12.14" height="19.77" fill="#7cbac1"/>
<rect x="876.11" y="166.64" width="12.14" height="19.77" fill="#82bdc4"/>
<rect x="887.65" y="166.64" width="12.14" height="19.77" fill="#89c0c7"/>
<rect x="899.19" y="166.64" width="12.14" height="19.77" fill="#8ac1c8"/>
<rect x="910.73" y="166.64" width="12.14" height="19.77" fill="#90c4cb"/>
<rect x="922.27" y="166.64" width="12.14" height="19.77" fill="#93c6cc"/>
<rect x="933.81" y="166.64" width="12.14" height="19.77" fill="#99c9cf"/>
<rect x="945.35" y="166.64" width="12.14" height="19.77" fill="#a0cdd3"/>
<rect x="956.89" y="166.64" width="12.14" height="19.77" fill="#a1cdd3"/>
<rect x="968.42" y="166.64" width="12.14" height="19.77" fill="#a2ced4"/>
<rect x="979.96" y="166.64" width="12.14" height="19.77" fill="#a7d0d6"/>
<rect x="991.50" y="166.64" width="12.14" height="19.77" fill="#a9d1d7"/>
<rect x="1003.04" y="166.64" width="12.14" height="19.77" fill="#acd3d9"/>
<rect x="1014.58" y="166.64" width="12.14" height="19.77" fill="#abd2d8"/>
<rect x="1026.12" y="166.64" width="12.14" height="19.77" fill="#b0d5db"/>
<rect x="1037.66" y="166.64" width="12.14" height="19.77" fill="#b1d6db"/>
<rect x="1049.20" y="166.64" width="12.14" height="19.77" fill="#b4d7dd"/>
<rect x="1060.74" y="166.64" width="12.14" height="19.77" fill="#b4d7dd"/>
<rect x="1072.28" y="166.64" width="12.14" height="19.77" fill="#b7d9de"/>
<rect x="1083.81" y="166.64" width="12.14" height="19.77" fill="#bbdbe0"/>
<rect x="1095.35" y="166.64" width="12.14" height="19.77" fill="#bfdde2"/>
<rect x="1106.89" y="166.64" width="12.14" height="19.77" fill="#bddce1"/>
<rect x="1118.43" y="166.64" width="12.14" height="19.77" fill="#c0dee2"/>
<rect x="1129.97" y="166.64" width="12.14" height="19.77" fill="#c3dfe4"/>
<rect x="1141.51" y="166.64" width="12.14" height="19.77" fill="#c5e0e5"/>
<rect x="1153.05" y="166.64" width="12.14" height="19.77" fill="#c3dfe4"/>
<rect x="1164.59" y="166.64" width="12.14" height="19.77" fill="#c4e0e4"/>
<rect x="1176.13" y="166.64" width="12.14" height="19.77" fill="#cae3e7"/>
<rect x="1187.67" y="166.64" width="12.14" height="19.77" fill="#cce4e8"/>
<rect x="1199.20" y="166.64" width="12.14" height="19.77" fill="#cbe4e8"/>
<rect x="1210.74" y="166.64" width="12.14" height="19.77" fill="#cbe3e8"/>
<rect x="1222.28" y="166.64" width="12.14" height="19.77" fill="#d1e7ea"/>
<rect x="1233.82" y="166.64" width="12.14" height="19.77" fill="#d0e6ea"/>
<rect x="1245.36" y="166.64" width="12.14" height="19.77" fill="#d5e8ec"/>
<rect x="783.80" y="147.47" width="12.14" height="19.77" fill="#3a979d"/>
<rect x="795.34" y="147.47" width="12.14" height="19.77" fill="#2d9096"/>
<rect x="806.88" y="147.47" width="12.14" height="19.77" fill="#419aa1"/>
<rect x="818.42" y="147.47" width="12.14" height="19.77" fill="#5da9b0"/>
<rect x="829.96" y="147.47" width="12.14" height="19.77" fill="#6ab0b7"/>
<rect x="841.50" y="147.47" width="12.14" height="19.77" fill="#73b5bc"/>
<rect x="853.03" y="147.47" width="12.14" height="19.77" fill="#7dbac1"/>
<rect x="864.57" y="147.47" width="12.14" height="19.77" fill="#84bec5"/>
<rect x="876.11" y="147.47" width="12.14" height="19.77" fill="#88c0c7"/>
<rect x="887.65" y="147.47" width="12.14" height="19.77" fill="#8fc4ca"/>
<rect x="899.19" y="147.47" width="12.14" height="19.77" fill="#96c7ce"/>
<rect x="910.73" y="147.47" width="12.14" height="19.77" fill="#9bcad1"/>
<rect x="922.27" y="147.47" width="12.14" height="19.77" fill="#a0ccd3"/>
<rect x="933.81" y="147.47" width="12.14" height="19.77" fill="#a3ced4"/>
<rect x="945.35" y="147.47" width="12.14" height="19.77" fill="#b2d6dc"/>
<rect x="956.89" y="147.47" width="12.14" height="19.77" fill="#b6d8de"/>
<rect x="968.42" y="147.47" width="12.14" height="19.77" fill="#b9dadf"/>
<rect x="979.96" y="147.47" width="12.14" height="19.77" fill="#b6d8de"/>
<rect x="991.50" y="147.47" width="12.14" height="19.77" fill="#badbe0"/>
<rect x="1003.04" y="147.47" width="12.14" height="19.77" fill="#bddce1"/>
<rect x="1014.58" y="147.47" width="12.14" height="19.77" fill="#bbdbe0"/>
<rect x="1026.12" y="147.47" width="12.14" height="19.77" fill="#c1dee3"/>
<rect x="1037.66" y="147.47" width="12.14" height="19.77" fill="#c0dee2"/>
<rect x="1049.20" y="147.47" width="12.14" height="19.77" fill="#c5e0e5"/>
<rect x="1060.74" y="147.47" width="12.14" height="19.77" fill="#c7e2e6"/>
<rect x="1072.28" y="147.47" width="12.14" height="19.77" fill="#cae3e7"/>
<rect x="1083.81" y="147.47" width="12.14" height="19.77" fill="#cce4e8"/>
<rect x="1095.35" y="147.47" width="12.14" height="19.77" fill="#cfe6e9"/>
<rect x="1106.89" y="147.47" width="12.14" height="19.77" fill="#d2e7eb"/>
<rect x="1118.43" y="147.47" width="12.14" height="19.77" fill="#d3e8eb"/>
<rect x="1129.97" y="147.47" width="12.14" height="19.77" fill="#d6e9ed"/>
<rect x="1141.51" y="147.47" width="12.14" height="19.77" fill="#d7eaed"/>
<rect x="1153.05" y="147.47" width="12.14" height="19.77" fill="#daebee"/>
<rect x="1164.59" y="147.47" width="12.14" height="19.77" fill="#daebee"/>
<rect x="1176.13" y="147.47" width="12.14" height="19.77" fill="#dfeef1"/>
<rect x="1187.67" y="147.47" width="12.14" height="19.77" fill="#e0eef1"/>
<rect x="1199.20" y="147.47" width="12.14" height="19.77" fill="#e1eff2"/>
<rect x="1210.74" y="147.47" width="12.14" height="19.77" fill="#e5f1f3"/>
<rect x="1222.28" y="147.47" width="12.14" height="19.77" fill="#e7f2f4"/>
<rect x="1233.82" y="147.47" width="12.14" height="19.77" fill="#e7f2f5"/>
<rect x="1245.36" y="147.47" width="12.14" height="19.77" fill="#e8f3f5"/>
<rect x="783.80" y="128.31" width="12.14" height="19.77" fill="#3a979d"/>
<rect x="795.34" y="128.31" width="12.14" height="19.77" fill="#2b8f95"/>
<rect x="806.88" y="128.31" width="12.14" height="19.77" fill="#419aa1"/>
<rect x="818.42" y="128.31" width="12.14" height="19.77" fill="#5ca9b0"/>
<rect x="829.96" y="128.31" width="12.14" height="19.77" fill="#69b0b7"/>
<rect x="841.50" y="128.31" width="12.14" height="19.77" fill="#73b5bc"/>
<rect x="853.03" y="128.31" width="12.14" height="19.77" fill="#7cbac1"/>
<rect x="864.57" y="128.31" width="12.14" height="19.77" fill="#81bcc3"/>
<rect x="876.11" y="128.31" width="12.14" height="19.77" fill="#8ac1c8"/>
<rect x="887.65" y="128.31" width="12.14" height="19.77" fill="#8dc3c9"/>
<rect x="899.19" y="128.31" width="12.14" height="19.77" fill="#95c7ce"/>
<rect x="910.73" y="128.31" width="12.14" height="19.77" fill="#9dcbd2"/>
<rect x="922.27" y="128.31" width="12.14" height="19.77" fill="#a2ced4"/>
<rect x="933.81" y="128.31" width="12.14" height="19.77" fill="#a6d0d6"/>
<rect x="945.35" y="128.31" width="12.14" height="19.77" fill="#afd4da"/>
<rect x="956.89" y="128.31" width="12.14" height="19.77" fill="#b1d6db"/>
<rect x="968.42" y="128.31" width="12.14" height="19.77" fill="#b7d9de"/>
<rect x="979.96" y="128.31" width="12.14" height="19.77" fill="#b7d9de"/>
<rect x="991.50" y="128.31" width="12.14" height="19.77" fill="#bddce1"/>
<rect x="1003.04" y="128.31" width="12.14" height="19.77" fill="#c1dee3"/>
<rect x="1014.58" y="128.31" width="12.14" height="19.77" fill="#c3dfe4"/>
<rect x="1026.12" y="128.31" width="12.14" height="19.77" fill="#c7e2e6"/>
<rect x="1037.66" y="128.31" width="12.14" height="19.77" fill="#c9e2e6"/>
<rect x="1049.20" y="128.31" width="12.14" height="19.77" fill="#d0e6ea"/>
<rect x="1060.74" y="128.31" width="12.14" height="19.77" fill="#d2e7eb"/>
<rect x="1072.28" y="128.31" width="12.14" height="19.77" fill="#d8eaee"/>
<rect x="1083.81" y="128.31" width="12.14" height="19.77" fill="#dcecef"/>
<rect x="1095.35" y="128.31" width="12.14" height="19.77" fill="#dcedf0"/>
<rect x="1106.89" y="128.31" width="12.14" height="19.77" fill="#e2eff2"/>
<rect x="1118.43" y="128.31" width="12.14" height="19.77" fill="#e5f1f3"/>
<rect x="1129.97" y="128.31" width="12.14" height="19.77" fill="#e3f0f3"/>
<rect x="1141.51" y="128.31" width="12.14" height="19.77" fill="#e7f2f4"/>
<rect x="1153.05" y="128.31" width="12.14" height="19.77" fill="#ebf5f6"/>
<rect x="1164.59" y="128.31" width="12.14" height="19.77" fill="#ebf4f6"/>
<rect x="1176.13" y="128.31" width="12.14" height="19.77" fill="#f1f8f9"/>
<rect x="1187.67" y="128.31" width="12.14" height="19.77" fill="#eff7f8"/>
<rect x="1199.20" y="128.31" width="12.14" height="19.77" fill="#f3f8fa"/>
<rect x="1210.74" y="128.31" width="12.14" height="19.77" fill="#f0f7f9"/>
<rect x="1222.28" y="128.31" width="12.14" height="19.77" fill="#f3f9fa"/>
<rect x="1233.82" y="128.31" width="12.14" height="19.77" fill="#f6fafb"/>
<rect x="1245.36" y="128.31" width="12.14" height="19.77" fill="#f4f9fa"/>
<rect x="783.80" y="109.14" width="12.14" height="19.77" fill="#3a969d"/>
<rect x="795.34" y="109.14" width="12.14" height="19.77" fill="#2c8f95"/>
<rect x="806.88" y="109.14" width="12.14" height="19.77" fill="#4099a0"/>
<rect x="818.42" y="109.14" width="12.14" height="19.77" fill="#58a6ad"/>
<rect x="829.96" y="109.14" width="12.14" height="19.77" fill="#68afb6"/>
<rect x="841.50" y="109.14" width="12.14" height="19.77" fill="#70b3bb"/>
<rect x="853.03" y="109.14" width="12.14" height="19.77" fill="#7cb9c1"/>
<rect x="864.57" y="109.14" width="12.14" height="19.77" fill="#82bdc4"/>
<rect x="876.11" y="109.14" width="12.14" height="19.77" fill="#89c1c8"/>
<rect x="887.65" y="109.14" width="12.14" height="19.77" fill="#8cc2c9"/>
<rect x="899.19" y="109.14" width="12.14" height="19.77" fill="#94c6cd"/>
<rect x="910.73" y="109.14" width="12.14" height="19.77" fill="#a3ced4"/>
<rect x="922.27" y="109.14" width="12.14" height="19.77" fill="#abd2d8"/>
<rect x="933.81" y="109.14" width="12.14" height="19.77" fill="#b1d6db"/>
<rect x="945.35" y="109.14" width="12.14" height="19.77" fill="#b5d8dd"/>
<rect x="956.89" y="109.14" width="12.14" height="19.77" fill="#badadf"/>
<rect x="968.42" y="109.14" width="12.14" height="19.77" fill="#bbdbe0"/>
<rect x="979.96" y="109.14" width="12.14" height="19.77" fill="#bedde1"/>
<rect x="991.50" y="109.14" width="12.14" height="19.77" fill="#c2dfe3"/>
<rect x="1003.04" y="109.14" width="12.14" height="19.77" fill="#c1dee3"/>
<rect x="1014.58" y="109.14" width="12.14" height="19.77" fill="#c9e2e7"/>
<rect x="1026.12" y="109.14" width="12.14" height="19.77" fill="#cbe3e7"/>
<rect x="1037.66" y="109.14" width="12.14" height="19.77" fill="#cde4e8"/>
<rect x="1049.20" y="109.14" width="12.14" height="19.77" fill="#d2e7eb"/>
<rect x="1060.74" y="109.14" width="12.14" height="19.77" fill="#d3e8eb"/>
<rect x="1072.28" y="109.14" width="12.14" height="19.77" fill="#daecef"/>
<rect x="1083.81" y="109.14" width="12.14" height="19.77" fill="#dcecef"/>
<rect x="1095.35" y="109.14" width="12.14" height="19.77" fill="#deeef1"/>
<rect x="1106.89" y="109.14" width="12.14" height="19.77" fill="#e4f1f3"/>
<rect x="1118.43" y="109.14" width="12.14" height="19.77" fill="#e7f2f4"/>
<rect x="1129.97" y="109.14" width="12.14" height="19.77" fill="#e9f4f6"/>
<rect x="1141.51" y="109.14" width="12.14" height="19.77" fill="#f0f7f8"/>
<rect x="1153.05" y="109.14" width="12.14" height="19.77" fill="#f1f7f9"/>
<rect x="1164.59" y="109.14" width="12.14" height="19.77" fill="#f8fbfc"/>
<rect x="1176.13" y="109.14" width="12.14" height="19.77" fill="#f9fcfc"/>
<rect x="1187.67" y="109.14" width="12.14" height="19.77" fill="#fbfdfd"/>
<rect x="1199.20" y="109.14" width="12.14" height="19.77" fill="#fefefe"/>
<rect x="1210.74" y="109.14" width="12.14" height="19.77" fill="#fcfefe"/>
<rect x="1222.28" y="109.14" width="12.14" height="19.77" fill="#fdfefe"/>
<rect x="1233.82" y="109.14" width="12.14" height="19.77" fill="#fcfefe"/>
<rect x="1245.36" y="109.14" width="12.14" height="19.77" fill="#fcfdfe"/>
<rect x="783.80" y="89.97" width="12.14" height="19.77" fill="#39969d"/>
<rect x="795.34" y="89.97" width="12.14" height="19.77" fill="#2c8f95"/>
<rect x="806.88" y="89.97" width="12.14" height="19.77" fill="#3f99a0"/>
<rect x="818.42" y="89.97" width="12.14" height="19.77" fill="#55a5ac"/>
<rect x="829.96" y="89.97" width="12.14" height="19.77" fill="#66aeb5"/>
<rect x="841.50" y="89.97" width="12.14" height="19.77" fill="#71b4bb"/>
<rect x="853.03" y="89.97" width="12.14" height="19.77" fill="#78b7bf"/>
<rect x="864.57" y="89.97" width="12.14" height="19.77" fill="#7fbbc2"/>
<rect x="876.11" y="89.97" width="12.14" height="19.77" fill="#88c0c7"/>
<rect x="887.65" y="89.97" width="12.14" height="19.77" fill="#8bc1c8"/>
<rect x="899.19" y="89.97" width="12.14" height="19.77" fill="#8fc4ca"/>
<rect x="910.73" y="89.97" width="12.14" height="19.77" fill="#a4cfd5"/>
<rect x="922.27" y="89.97" width="12.14" height="19.77" fill="#a9d1d7"/>
<rect x="933.81" y="89.97" width="12.14" height="19.77" fill="#b0d5db"/>
<rect x="945.35" y="89.97" width="12.14" height="19.77" fill="#b4d7dd"/>
<rect x="956.89" y="89.97" width="12.14" height="19.77" fill="#b8dadf"/>
<rect x="968.42" y="89.97" width="12.14" height="19.77" fill="#bbdbe0"/>
<rect x="979.96" y="89.97" width="12.14" height="19.77" fill="#bcdbe0"/>
<rect x="991.50" y="89.97" width="12.14" height="19.77" fill="#c0dee3"/>
<rect x="1003.04" y="89.97" width="12.14" height="19.77" fill="#c2dfe3"/>
<rect x="1014.58" y="89.97" width="12.14" height="19.77" fill="#c4e0e4"/>
<rect x="1026.12" y="89.97" width="12.14" height="19.77" fill="#cbe3e8"/>
<rect x="1037.66" y="89.97" width="12.14" height="19.77" fill="#cbe4e8"/>
<rect x="1049.20" y="89.97" width="12.14" height="19.77" fill="#cfe5e9"/>
<rect x="1060.74" y="89.97" width="12.14" height="19.77" fill="#d2e7eb"/>
<rect x="1072.28" y="89.97" width="12.14" height="19.77" fill="#d8eaee"/>
<rect x="1083.81" y="89.97" width="12.14" height="19.77" fill="#ddedf0"/>
<rect x="1095.35" y="89.97" width="12.14" height="19.77" fill="#e0eff1"/>
<rect x="1106.89" y="89.97" width="12.14" height="19.77" fill="#e3f0f2"/>
<rect x="1118.43" y="89.97" width="12.14" height="19.77" fill="#e6f2f4"/>
<rect x="1129.97" y="89.97" width="12.14" height="19.77" fill="#e9f3f5"/>
<rect x="1141.51" y="89.97" width="12.14" height="19.77" fill="#f0f7f8"/>
<rect x="1153.05" y="89.97" width="12.14" height="19.77" fill="#f3f9fa"/>
<rect x="1164.59" y="89.97" width="12.14" height="19.77" fill="#f6fafb"/>
<rect x="1176.13" y="89.97" width="12.14" height="19.77" fill="#fbfdfd"/>
<rect x="1187.67" y="89.97" width="12.14" height="19.77" fill="#fafdfd"/>
<rect x="1199.20" y="89.97" width="12.14" height="19.77" fill="#fdfefe"/>
<rect x="1210.74" y="89.97" width="12.14" height="19.77" fill="#fdfefe"/>
<rect x="1222.28" y="89.97" width="12.14" height="19.77" fill="#fcfdfd"/>
<rect x="1233.82" y="89.97" width="12.14" height="19.77" fill="#ffffff"/>
<rect x="1245.36" y="89.97" width="12.14" height="19.77" fill="#fcfdfe"/>
<rect x="783.80" y="70.80" width="12.14" height="19.77" fill="#3a979d"/>
<rect x="795.34" y="70.80" width="12.14" height="19.77" fill="#2c8f95"/>
<rect x="806.88" y="70.80" width="12.14" height="19.77" fill="#3e999f"/>
<rect x="818.42" y="70.80" width="12.14" height="19.77" fill="#4fa2a9"/>
<rect x="829.96" y="70.80" width="12.14" height="19.77" fill="#5eaab1"/>
<rect x="841.50" y="70.80" width="12.14" height="19.77" fill="#67aeb6"/>
<rect x="853.03" y="70.80" width="12.14" height="19.77" fill="#75b6bd"/>
<rect x="864.57" y="70.80" width="12.14" height="19.77" fill="#7fbbc2"/>
<rect x="876.11" y="70.80" width="12.14" height="19.77" fill="#84bec5"/>
<rect x="887.65" y="70.80" width="12.14" height="19.77" fill="#8ac1c8"/>
<rect x="899.19" y="70.80" width="12.14" height="19.77" fill="#92c5cc"/>
<rect x="910.73" y="70.80" width="12.14" height="19.77" fill="#98c8cf"/>
<rect x="922.27" y="70.80" width="12.14" height="19.77" fill="#9fccd2"/>
<rect x="933.81" y="70.80" width="12.14" height="19.77" fill="#a6d0d6"/>
<rect x="945.35" y="70.80" width="12.14" height="19.77" fill="#abd3d8"/>
<rect x="956.89" y="70.80" width="12.14" height="19.77" fill="#afd5da"/>
<rect x="968.42" y="70.80" width="12.14" height="19.77" fill="#b3d7dc"/>
<rect x="979.96" y="70.80" width="12.14" height="19.77" fill="#b5d8dd"/>
<rect x="991.50" y="70.80" width="12.14" height="19.77" fill="#bddce1"/>
<rect x="1003.04" y="70.80" width="12.14" height="19.77" fill="#c0dde2"/>
<rect x="1014.58" y="70.80" width="12.14" height="19.77" fill="#c3dfe4"/>
<rect x="1026.12" y="70.80" width="12.14" height="19.77" fill="#c4e0e4"/>
<rect x="1037.66" y="70.80" width="12.14" height="19.77" fill="#cce4e8"/>
<rect x="1049.20" y="70.80" width="12.14" height="19.77" fill="#d0e6ea"/>
<rect x="1060.74" y="70.80" width="12.14" height="19.77" fill="#d4e8ec"/>
<rect x="1072.28" y="70.80" width="12.14" height="19.77" fill="#d9ebee"/>
<rect x="1083.81" y="70.80" width="12.14" height="19.77" fill="#ddedf0"/>
<rect x="1095.35" y="70.80" width="12.14" height="19.77" fill="#e0eff1"/>
<rect x="1106.89" y="70.80" width="12.14" height="19.77" fill="#e3f0f3"/>
<rect x="1118.43" y="70.80" width="12.14" height="19.77" fill="#e7f2f4"/>
<rect x="1129.97" y="70.80" width="12.14" height="19.77" fill="#e9f3f5"/>
<rect x="1141.51" y="70.80" width="12.14" height="19.77" fill="#eef6f7"/>
<rect x="1153.05" y="70.80" width="12.14" height="19.77" fill="#f3f9fa"/>
<rect x="1164.59" y="70.80" width="12.14" height="19.77" fill="#f6fafb"/>
<rect x="1176.13" y="70.80" width="12.14" height="19.77" fill="#fafcfd"/>
<rect x="1187.67" y="70.80" width="12.14" height="19.77" fill="#fafcfd"/>
<rect x="1199.20" y="70.80" width="12.14" height="19.77" fill="#f9fcfc"/>
<rect x="1210.74" y="70.80" width="12.14" height="19.77" fill="#fbfdfd"/>
<rect x="1222.28" y="70.80" width="12.14" height="19.77" fill="#fbfdfd"/>
<rect x="1233.82" y="70.80" width="12.14" height="19.77" fill="#fdfefe"/>
<rect x="1245.36" y="70.80" width="12.14" height="19.77" fill="#fdfefe"/>
<rect x="783.80" y="51.64" width="12.14" height="19.77" fill="#3a969d"/>
<rect x="795.34" y="51.64" width="12.14" height="19.77" fill="#2d8f95"/>
<rect x="806.88" y="51.64" width="12.14" height="19.77" fill="#409aa0"/>
<rect x="818.42" y="51.64" width="12.14" height="19.77" fill="#51a3aa"/>
<rect x="829.96" y="51.64" width="12.14" height="19.77" fill="#60abb2"/>
<rect x="841.50" y="51.64" width="12.14" height="19.77" fill="#69afb6"/>
<rect x="853.03" y="51.64" width="12.14" height="19.77" fill="#75b6bd"/>
<rect x="864.57" y="51.64" width="12.14" height="19.77" fill="#7dbac1"/>
<rect x="876.11" y="51.64" width="12.14" height="19.77" fill="#87bfc6"/>
<rect x="887.65" y="51.64" width="12.14" height="19.77" fill="#8ec3ca"/>
<rect x="899.19" y="51.64" width="12.14" height="19.77" fill="#93c6cc"/>
<rect x="910.73" y="51.64" width="12.14" height="19.77" fill="#97c8ce"/>
<rect x="922.27" y="51.64" width="12.14" height="19.77" fill="#9fccd2"/>
<rect x="933.81" y="51.64" width="12.14" height="19.77" fill="#a2ced4"/>
<rect x="945.35" y="51.64" width="12.14" height="19.77" fill="#a9d1d7"/>
<rect x="956.89" y="51.64" width="12.14" height="19.77" fill="#afd5da"/>
<rect x="968.42" y="51.64" width="12.14" height="19.77" fill="#b2d6dc"/>
<rect x="979.96" y="51.64" width="12.14" height="19.77" fill="#b6d8de"/>
<rect x="991.50" y="51.64" width="12.14" height="19.77" fill="#b9dadf"/>
<rect x="1003.04" y="51.64" width="12.14" height="19.77" fill="#bfdde2"/>
<rect x="1014.58" y="51.64" width="12.14" height="19.77" fill="#c0dee2"/>
<rect x="1026.12" y="51.64" width="12.14" height="19.77" fill="#c5e0e5"/>
<rect x="1037.66" y="51.64" width="12.14" height="19.77" fill="#c9e2e6"/>
<rect x="1049.20" y="51.64" width="12.14" height="19.77" fill="#cde5e9"/>
<rect x="1060.74" y="51.64" width="12.14" height="19.77" fill="#cfe6ea"/>
<rect x="1072.28" y="51.64" width="12.14" height="19.77" fill="#d5e9ec"/>
<rect x="1083.81" y="51.64" width="12.14" height="19.77" fill="#d8eaee"/>
<rect x="1095.35" y="51.64" width="12.14" height="19.77" fill="#dbecef"/>
<rect x="1106.89" y="51.64" width="12.14" height="19.77" fill="#ddedf0"/>
<rect x="1118.43" y="51.64" width="12.14" height="19.77" fill="#e2f0f2"/>
<rect x="1129.97" y="51.64" width="12.14" height="19.77" fill="#e3f0f3"/>
<rect x="1141.51" y="51.64" width="12.14" height="19.77" fill="#eaf4f6"/>
<rect x="1153.05" y="51.64" width="12.14" height="19.77" fill="#eaf4f6"/>
<rect x="1164.59" y="51.64" width="12.14" height="19.77" fill="#ecf5f7"/>
<rect x="1176.13" y="51.64" width="12.14" height="19.77" fill="#f0f7f8"/>
<rect x="1187.67" y="51.64" width="12.14" height="19.77" fill="#f5fafb"/>
<rect x="1199.20" y="51.64" width="12.14" height="19.77" fill="#f4f9fa"/>
<rect x="1210.74" y="51.64" width="12.14" height="19.77" fill="#f4f9fa"/>
<rect x="1222.28" y="51.64" width="12.14" height="19.77" fill="#f4f9fa"/>
<rect x="1233.82" y="51.64" width="12.14" height="19.77" fill="#f6fafb"/>
<rect x="1245.36" y="51.64" width="12.14" height="19.77" fill="#fafcfd"/>
<rect x="783.80" y="32.47" width="12.14" height="19.77" fill="#3a979d"/>
<rect x="795.34" y="32.47" width="12.14" height="19.77" fill="#2d9095"/>
<rect x="806.88" y="32.47" width="12.14" height="19.77" fill="#409aa0"/>
<rect x="818.42" y="32.47" width="12.14" height="19.77" fill="#51a3aa"/>
<rect x="829.96" y="32.47" width="12.14" height="19.77" fill="#61abb3"/>
<rect x="841.50" y="32.47" width="12.14" height="19.77" fill="#6bb1b8"/>
<rect x="853.03" y="32.47" width="12.14" height="19.77" fill="#77b7be"/>
<rect x="864.57" y="32.47" width="12.14" height="19.77" fill="#7fbbc2"/>
<rect x="876.11" y="32.47" width="12.14" height="19.77" fill="#87c0c7"/>
<rect x="887.65" y="32.47" width="12.14" height="19.77" fill="#8ac1c8"/>
<rect x="899.19" y="32.47" width="12.14" height="19.77" fill="#93c6cc"/>
<rect x="910.73" y="32.47" width="12.14" height="19.77" fill="#99c9d0"/>
<rect x="922.27" y="32.47" width="12.14" height="19.77" fill="#9fccd2"/>
<rect x="933.81" y="32.47" width="12.14" height="19.77" fill="#a1cdd3"/>
<rect x="945.35" y="32.47" width="12.14" height="19.77" fill="#a8d1d7"/>
<rect x="956.89" y="32.47" width="12.14" height="19.77" fill="#acd3d9"/>
<rect x="968.42" y="32.47" width="12.14" height="19.77" fill="#afd4da"/>
<rect x="979.96" y="32.47" width="12.14" height="19.77" fill="#b6d8de"/>
<rect x="991.50" y="32.47" width="12.14" height="19.77" fill="#b9dadf"/>
<rect x="1003.04" y="32.47" width="12.14" height="19.77" fill="#bcdce1"/>
<rect x="1014.58" y="32.47" width="12.14" height="19.77" fill="#c1dee3"/>
<rect x="1026.12" y="32.47" width="12.14" height="19.77" fill="#c3dfe4"/>
<rect x="1037.66" y="32.47" width="12.14" height="19.77" fill="#c6e1e5"/>
<rect x="1049.20" y="32.47" width="12.14" height="19.77" fill="#c9e2e7"/>
<rect x="1060.74" y="32.47" width="12.14" height="19.77" fill="#cde4e8"/>
<rect x="1072.28" y="32.47" width="12.14" height="19.77" fill="#d4e8ec"/>
<rect x="1083.81" y="32.47" width="12.14" height="19.77" fill="#d5e9ec"/>
<rect x="1095.35" y="32.47" width="12.14" height="19.77" fill="#daebee"/>
<rect x="1106.89" y="32.47" width="12.14" height="19.77" fill="#ddedf0"/>
<rect x="1118.43" y="32.47" width="12.14" height="19.77" fill="#deeef0"/>
<rect x="1129.97" y="32.47" width="12.14" height="19.77" fill="#e2f0f2"/>
<rect x="1141.51" y="32.47" width="12.14" height="19.77" fill="#e5f1f4"/>
<rect x="1153.05" y="32.47" width="12.14" height="19.77" fill="#eaf4f6"/>
<rect x="1164.59" y="32.47" width="12.14" height="19.77" fill="#ecf5f6"/>
<rect x="1176.13" y="32.47" width="12.14" height="19.77" fill="#eef6f8"/>
<rect x="1187.67" y="32.47" width="12.14" height="19.77" fill="#f3f9fa"/>
<rect x="1199.20" y="32.47" width="12.14" height="19.77" fill="#f2f8f9"/>
<rect x="1210.74" y="32.47" width="12.14" height="19.77" fill="#f5fafb"/>
<rect x="1222.28" y="32.47" width="12.14" height="19.77" fill="#f6fafb"/>
<rect x="1233.82" y="32.47" width="12.14" height="19.77" fill="#f5f9fa"/>
<rect x="1245.36" y="32.47" width="12.14" height="19.77" fill="#f8fbfc"/>
<rect x="783.80" y="13.30" width="12.14" height="19.77" fill="#3a979d"/>
<rect x="795.34" y="13.30" width="12.14" height="19.77" fill="#2d9096"/>
<rect x="806.88" y="13.30" width="12.14" height="19.77" fill="#3f99a0"/>
<rect x="818.42" y="13.30" width="12.14" height="19.77" fill="#53a4ab"/>
<rect x="829.96" y="13.30" width="12.14" height="19.77" fill="#61abb2"/>
<rect x="841.50" y="13.30" width="12.14" height="19.77" fill="#6bb0b8"/>
<rect x="853.03" y="13.30" width="12.14" height="19.77" fill="#78b7be"/>
<rect x="864.57" y="13.30" width="12.14" height="19.77" fill="#7dbac1"/>
<rect x="876.11" y="13.30" width="12.14" height="19.77" fill="#87bfc6"/>
<rect x="887.65" y="13.30" width="12.14" height="19.77" fill="#8ac1c8"/>
<rect x="899.19" y="13.30" width="12.14" height="19.77" fill="#8fc4ca"/>
<rect x="910.73" y="13.30" width="12.14" height="19.77" fill="#96c7ce"/>
<rect x="922.27" y="13.30" width="12.14" height="19.77" fill="#9eccd2"/>
<rect x="933.81" y="13.30" width="12.14" height="19.77" fill="#a5cfd5"/>
<rect x="945.35" y="13.30" width="12.14" height="19.77" fill="#a7d1d7"/>
<rect x="956.89" y="13.30" width="12.14" height="19.77" fill="#add4d9"/>
<rect x="968.42" y="13.30" width="12.14" height="19.77" fill="#b1d6db"/>
<rect x="979.96" y="13.30" width="12.14" height="19.77" fill="#b6d8de"/>
<rect x="991.50" y="13.30" width="12.14" height="19.77" fill="#b7d9de"/>
<rect x="1003.04" y="13.30" width="12.14" height="19.77" fill="#bcdbe0"/>
<rect x="1014.58" y="13.30" width="12.14" height="19.77" fill="#bedde2"/>
<rect x="1026.12" y="13.30" width="12.14" height="19.77" fill="#c4e0e4"/>
<rect x="1037.66" y="13.30" width="12.14" height="19.77" fill="#c5e0e5"/>
<rect x="1049.20" y="13.30" width="12.14" height="19.77" fill="#cde4e8"/>
<rect x="1060.74" y="13.30" width="12.14" height="19.77" fill="#cee5e9"/>
<rect x="1072.28" y="13.30" width="12.14" height="19.77" fill="#d1e7ea"/>
<rect x="1083.81" y="13.30" width="12.14" height="19.77" fill="#d7eaed"/>
<rect x="1095.35" y="13.30" width="12.14" height="19.77" fill="#dbecef"/>
<rect x="1106.89" y="13.30" width="12.14" height="19.77" fill="#dcecef"/>
<rect x="1118.43" y="13.30" width="12.14" height="19.77" fill="#e1eff2"/>
<rect x="1129.97" y="13.30" width="12.14" height="19.77" fill="#e1eff2"/>
<rect x="1141.51" y="13.30" width="12.14" height="19.77" fill="#e8f3f5"/>
<rect x="1153.05" y="13.30" width="12.14" height="19.77" fill="#eaf4f6"/>
<rect x="1164.59" y="13.30" width="12.14" height="19.77" fill="#eef6f7"/>
<rect x="1176.13" y="13.30" width="12.14" height="19.77" fill="#f0f7f8"/>
<rect x="1187.67" y="13.30" width="12.14" height="19.77" fill="#f0f7f8"/>
<rect x="1199.20" y="13.30" width="12.14" height="19.77" fill="#f2f8f9"/>
<rect x="1210.74" y="13.30" width="12.14" height="19.77" fill="#f3f9fa"/>
<rect x="1222.28" y="13.30" width="12.14" height="19.77" fill="#f7fbfc"/>
<rect x="1233.82" y="13.30" width="12.14" height="19.77" fill="#f5fafb"/>
<rect x="1245.36" y="13.30" width="12.14" height="19.77" fill="#fafcfd"/>
</g>
<clipPath id="cc"><rect x="783.8" y="13.3" width="473.1" height="594.2"/></clipPath>
<g clip-path="url(#cc)">
<path d="M829.4 12.0 L833.2 32.8 L837.0 48.0 L840.8 72.0 L834.4 87.2 L828.1 102.4 L825.1 116.3 L824.3 131.5 L825.1 151.8 L826.8 172.0 L829.4 189.0 L834.4 202.9 L840.8 215.6 L850.9 227.0 L858.5 243.4 L868.6 258.6 L878.7 271.3 L888.9 276.3 L905.3 289.0 L921.8 295.3 L937.0 302.9 L945.8 308.7 L952.0 310.5" fill="none" stroke="#2d4c57" stroke-width="4.2" stroke-linejoin="round" stroke-linecap="butt" stroke-opacity="0.68"/>
<path d="M1014.6 323.9 L1036.6 329.4 L1060.3 329.4 L1073.1 331.3 L1085.9 329.4 L1098.7 333.1 L1113.4 335.8 L1135.3 336.2 L1155.4 338.6 L1170.0 340.9 L1192.0 342.8 L1210.3 342.2 L1219.4 344.0 L1237.7 344.6 L1258.0 346.0" fill="none" stroke="#2d4c57" stroke-width="4.2" stroke-linejoin="round" stroke-linecap="butt" stroke-opacity="0.68"/>
<path d="M790.6 609.0 L791.1 606.2 L795.8 591.4 L802.3 578.4 L810.6 567.2 L820.8 557.0 L835.7 546.8 L854.2 537.5 L872.8 531.0 L891.4 525.1 L906.2 524.5 L919.2 519.9 L937.8 515.8 L954.5 515.3 L973.0 511.6 L993.5 509.3 L1020.0 507.8 L1047.8 504.1 L1075.7 501.9 L1111.0 498.6" fill="none" stroke="#2d4c57" stroke-width="4.2" stroke-linejoin="round" stroke-linecap="butt" stroke-opacity="0.68"/>
<path d="M1175.0 495.8 L1205.6 493.9 L1233.5 493.4 L1258.0 491.3" fill="none" stroke="#2d4c57" stroke-width="4.2" stroke-linejoin="round" stroke-linecap="butt" stroke-opacity="0.68"/>
<path d="M832.0 609.0 L835.7 606.2 L845.0 599.7 L858.0 594.2 L872.8 589.5 L893.2 586.2" fill="none" stroke="#80868a" stroke-width="4.3" stroke-linejoin="round" stroke-linecap="butt" stroke-opacity="0.72"/>
<path d="M957.3 576.0 L984.2 572.2 L1002.7 570.4 L1020.0 570.3 L1047.8 567.2 L1057.1 564.5 L1094.2 560.7 L1131.4 558.0 L1168.5 555.2 L1205.6 553.3 L1233.5 552.0 L1258.0 550.0" fill="none" stroke="#80868a" stroke-width="4.3" stroke-linejoin="round" stroke-linecap="butt" stroke-opacity="0.72"/>
<path d="M1169.8 12.0 L1168.6 30.3 L1161.9 39.3 L1154.0 29.1 L1148.4 41.5 L1144.5 60.0" fill="none" stroke="#80868a" stroke-width="4.3" stroke-linejoin="round" stroke-linecap="butt" stroke-opacity="0.72"/>
<path d="M1137.1 113.5 L1151.8 121.4 L1161.9 119.1 L1174.3 132.6 L1188.9 137.1 L1199.0 131.5 L1209.1 149.5 L1221.5 137.1 L1235.0 145.0 L1247.4 150.6 L1258.0 137.0" fill="none" stroke="#80868a" stroke-width="4.3" stroke-linejoin="round" stroke-linecap="butt" stroke-opacity="0.72"/>
<path d="M990.0 609.0 L994.0 606.5 L1029.0 600.6 L1057.0 597.0 L1094.0 594.0 L1116.5 592.9" fill="none" stroke="#d2ccc6" stroke-width="4.0" stroke-linejoin="round" stroke-linecap="butt" stroke-opacity="0.5"/>
<path d="M1185.2 592.3 L1224.0 590.4 L1258.0 589.4" fill="none" stroke="#d2ccc6" stroke-width="4.0" stroke-linejoin="round" stroke-linecap="butt" stroke-opacity="0.5"/>
</g>
<text transform="translate(979.5 314.5) rotate(8)" text-anchor="middle" font-family='"DejaVu Sans Light", "DejaVu Sans", "Liberation Sans", sans-serif' font-size="37" font-weight="200" fill="#2d4c57" opacity="0.68" stroke="#2d4c57" stroke-width="0.7" y="13.7">0.1</text>
<text transform="translate(1141.0 494.8) rotate(-3)" text-anchor="middle" font-family='"DejaVu Sans Light", "DejaVu Sans", "Liberation Sans", sans-serif' font-size="37" font-weight="200" fill="#2d4c57" opacity="0.68" stroke="#2d4c57" stroke-width="0.7" y="13.7">0.1</text>
<text transform="translate(924.5 580.0) rotate(-10)" text-anchor="middle" font-family='"DejaVu Sans Light", "DejaVu Sans", "Liberation Sans", sans-serif' font-size="37" font-weight="200" fill="#80868a" opacity="0.72" stroke="#80868a" stroke-width="0.7" y="13.7">0.2</text>
<text transform="translate(1150.5 590.0) rotate(-2)" text-anchor="middle" font-family='"DejaVu Sans Light", "DejaVu Sans", "Liberation Sans", sans-serif' font-size="37" font-weight="200" fill="#d2ccc6" opacity="0.5" stroke="#d2ccc6" stroke-width="0.7" y="13.7">0.3</text>
<text transform="translate(1140.0 71.0) rotate(84)" text-anchor="middle" font-family='"DejaVu Sans Light", "DejaVu Sans", "Liberation Sans", sans-serif' font-size="37" font-weight="200" fill="#80868a" opacity="0.72" stroke="#80868a" stroke-width="0.7" y="13.7">0.2</text>
<rect x="783.8" y="13.3" width="473.1" height="594.2" fill="none" stroke="#000" stroke-width="2.8"/>
<line x1="772.8" y1="607.5" x2="783.8" y2="607.5" stroke="#000" stroke-width="2.8" />
<text transform="translate(740.73 620.50) scale(0.9524 1)" font-family='"Liberation Serif", "DejaVu Serif", serif' font-size="38.5" stroke="#ffffff" stroke-width="0.45">0</text>
<line x1="772.8" y1="508.5" x2="783.8" y2="508.5" stroke="#000" stroke-width="2.8" />
<text transform="translate(739.89 521.47) scale(1.0000 1)" font-family='"Liberation Serif", "DejaVu Serif", serif' font-size="38.5" stroke="#ffffff" stroke-width="0.45">5</text>
<line x1="772.8" y1="409.4" x2="783.8" y2="409.4" stroke="#000" stroke-width="2.8" />
<text transform="translate(721.16 422.43) scale(0.9915 1)" font-family='"Liberation Serif", "DejaVu Serif", serif' font-size="38.5" stroke="#ffffff" stroke-width="0.45">10</text>
<line x1="772.8" y1="310.4" x2="783.8" y2="310.4" stroke="#000" stroke-width="2.8" />
<text transform="translate(721.16 323.40) scale(0.9915 1)" font-family='"Liberation Serif", "DejaVu Serif", serif' font-size="38.5" stroke="#ffffff" stroke-width="0.45">15</text>
<line x1="772.8" y1="211.4" x2="783.8" y2="211.4" stroke="#000" stroke-width="2.8" />
<text transform="translate(722.76 224.37) scale(0.9481 1)" font-family='"Liberation Serif", "DejaVu Serif", serif' font-size="38.5" stroke="#ffffff" stroke-width="0.45">20</text>
<line x1="772.8" y1="112.3" x2="783.8" y2="112.3" stroke="#000" stroke-width="2.8" />
<text transform="translate(722.76 125.33) scale(0.9481 1)" font-family='"Liberation Serif", "DejaVu Serif", serif' font-size="38.5" stroke="#ffffff" stroke-width="0.45">25</text>
<line x1="772.8" y1="13.3" x2="783.8" y2="13.3" stroke="#000" stroke-width="2.8" />
<text transform="translate(722.76 26.30) scale(0.9481 1)" font-family='"Liberation Serif", "DejaVu Serif", serif' font-size="38.5" stroke="#ffffff" stroke-width="0.45">30</text>
<line x1="783.8" y1="607.5" x2="783.8" y2="618.5" stroke="#000" stroke-width="2.8" />
<line x1="902.1" y1="607.5" x2="902.1" y2="618.5" stroke="#000" stroke-width="2.8" />
<line x1="1020.4" y1="607.5" x2="1020.4" y2="618.5" stroke="#000" stroke-width="2.8" />
<line x1="1138.6" y1="607.5" x2="1138.6" y2="618.5" stroke="#000" stroke-width="2.8" />
<line x1="1256.9" y1="607.5" x2="1256.9" y2="618.5" stroke="#000" stroke-width="2.8" />
<text transform="translate(758.82 656.10) scale(0.9590 1)" font-family='"Liberation Serif", "DejaVu Serif", serif' font-size="38.5" stroke="#ffffff" stroke-width="0.45">0.0</text>
<text transform="translate(877.57 656.10) scale(0.9431 1)" font-family='"Liberation Serif", "DejaVu Serif", serif' font-size="38.5" stroke="#ffffff" stroke-width="0.45">2.5</text>
<text transform="translate(994.10 656.10) scale(0.9938 1)" font-family='"Liberation Serif", "DejaVu Serif", serif' font-size="38.5" stroke="#ffffff" stroke-width="0.45">5.0</text>
<text transform="translate(1112.75 656.10) scale(0.9800 1)" font-family='"Liberation Serif", "DejaVu Serif", serif' font-size="38.5" stroke="#ffffff" stroke-width="0.45">7.5</text>
<text transform="translate(1221.19 656.10) scale(0.9510 1)" font-family='"Liberation Serif", "DejaVu Serif", serif' font-size="38.5" stroke="#ffffff" stroke-width="0.45">10.0</text>
<text transform="translate(704.10 430.86) rotate(-90) scale(0.9334 1)" font-family='"Liberation Sans", "DejaVu Sans", sans-serif' font-size="36.4">Input</text>
<text transform="translate(704.10 340.95) rotate(-90) scale(0.9443 1)" font-family='"Liberation Sans", "DejaVu Sans", sans-serif' font-size="36.4">Delay,</text>
<text transform="translate(704.10 231.43) rotate(-90) scale(1.3123 1)" font-family='"Liberation Serif", "DejaVu Serif", serif' font-size="35.5" font-style="italic">n</text>
<text transform="translate(709.10 207.16) rotate(-90) scale(1.0625 1)" font-family='"Liberation Serif", "DejaVu Serif", serif' font-size="25.6" font-style="italic">I</text>
<text transform="translate(816.93 701.60) scale(0.8815 1)" font-family='"Liberation Sans", "DejaVu Sans", sans-serif' font-size="36.4">Delayed</text>
<text transform="translate(949.42 701.60) scale(0.9696 1)" font-family='"Liberation Sans", "DejaVu Sans", sans-serif' font-size="36.4">Input</text>
<text transform="translate(1043.11 701.60) scale(0.9120 1)" font-family='"Liberation Sans", "DejaVu Sans", sans-serif' font-size="36.4">Scaling,</text>
<text transform="translate(1175.07 701.60) scale(0.9964 1)" font-family='"Liberation Serif", "DejaVu Serif", serif' font-size="38.9" font-style="italic">G</text>
<text transform="translate(1205.11 707.60) scale(1.1829 1)" font-family='"Liberation Serif", "DejaVu Serif", serif' font-size="20.5">2</text>
<text transform="translate(1200.25 59.10) scale(0.6638 1)" font-family='"Liberation Sans", "DejaVu Sans", sans-serif' font-size="41.5">(</text>
<text transform="translate(1213.80 57.80) scale(0.9266 1)" font-family='"Liberation Sans", "DejaVu Sans", sans-serif' font-size="32.5">c</text>
<text transform="translate(1232.96 59.10) scale(0.6638 1)" font-family='"Liberation Sans", "DejaVu Sans", sans-serif' font-size="41.5">)</text>
<defs><linearGradient id="cb" x1="0" y1="1" x2="0" y2="0"><stop offset="0.000" stop-color="#087c80"/><stop offset="0.025" stop-color="#0d7f83"/><stop offset="0.050" stop-color="#148387"/><stop offset="0.075" stop-color="#1d878c"/><stop offset="0.100" stop-color="#268c92"/><stop offset="0.125" stop-color="#319298"/><stop offset="0.150" stop-color="#3c979e"/><stop offset="0.175" stop-color="#479da4"/><stop offset="0.200" stop-color="#53a4ab"/><stop offset="0.225" stop-color="#5faab2"/><stop offset="0.250" stop-color="#6cb1b8"/><stop offset="0.275" stop-color="#7ab8bf"/><stop offset="0.300" stop-color="#87bfc6"/><stop offset="0.325" stop-color="#95c7cd"/><stop offset="0.350" stop-color="#a3ced5"/><stop offset="0.375" stop-color="#b2d6dc"/><stop offset="0.400" stop-color="#c1dee3"/><stop offset="0.425" stop-color="#d0e6ea"/><stop offset="0.450" stop-color="#dfeef1"/><stop offset="0.475" stop-color="#eff7f8"/><stop offset="0.500" stop-color="#ffffff"/><stop offset="0.525" stop-color="#fff1e6"/><stop offset="0.550" stop-color="#ffe8d4"/><stop offset="0.575" stop-color="#ffe0c5"/><stop offset="0.600" stop-color="#ffd9b7"/><stop offset="0.625" stop-color="#ffd2aa"/><stop offset="0.650" stop-color="#ffcb9d"/><stop offset="0.675" stop-color="#ffc591"/><stop offset="0.700" stop-color="#ffbf86"/><stop offset="0.725" stop-color="#ffb97b"/><stop offset="0.750" stop-color="#ffb370"/><stop offset="0.775" stop-color="#ffad65"/><stop offset="0.800" stop-color="#ffa85b"/><stop offset="0.825" stop-color="#ffa251"/><stop offset="0.850" stop-color="#ff9d47"/><stop offset="0.875" stop-color="#ff983d"/><stop offset="0.900" stop-color="#ff9333"/><stop offset="0.925" stop-color="#ff8e2a"/><stop offset="0.950" stop-color="#ff8920"/><stop offset="0.975" stop-color="#ff8417"/><stop offset="1.000" stop-color="#ff7f0e"/></linearGradient></defs>
<rect x="1287.1" y="13.3" width="28.8" height="594.2" fill="url(#cb)"/>
<rect x="1287.1" y="13.3" width="28.8" height="594.2" fill="none" stroke="#000" stroke-width="2.8"/>
<line x1="1315.9" y1="488.1" x2="1327.4" y2="488.1" stroke="#000" stroke-width="2.8" />
<text transform="translate(1337.78 501.10) scale(0.9870 1)" font-family='"Liberation Serif", "DejaVu Serif", serif' font-size="38.5" stroke="#ffffff" stroke-width="0.45">0.1</text>
<line x1="1315.9" y1="333.5" x2="1327.4" y2="333.5" stroke="#000" stroke-width="2.8" />
<text transform="translate(1337.79 346.47) scale(0.9827 1)" font-family='"Liberation Serif", "DejaVu Serif", serif' font-size="38.5" stroke="#ffffff" stroke-width="0.45">0.2</text>
<line x1="1315.9" y1="178.8" x2="1327.4" y2="178.8" stroke="#000" stroke-width="2.8" />
<text transform="translate(1337.81 191.84) scale(0.9701 1)" font-family='"Liberation Serif", "DejaVu Serif", serif' font-size="38.5" stroke="#ffffff" stroke-width="0.45">0.3</text>
<line x1="1315.9" y1="24.2" x2="1327.4" y2="24.2" stroke="#000" stroke-width="2.8" />
<text transform="translate(1337.84 37.21) scale(0.9498 1)" font-family='"Liberation Serif", "DejaVu Serif", serif' font-size="38.5" stroke="#ffffff" stroke-width="0.45">0.4</text>
<text transform="translate(1422.20 374.39) rotate(-90) scale(0.9226 1)" font-family='"Liberation Sans", "DejaVu Sans", sans-serif' font-size="36.4">NRMSE</text>
<clipPath id="ca"><rect x="127.5" y="13.4" width="533.5" height="245.0"/></clipPath>
<g clip-path="url(#ca)">
<path d="M127.5 52.6 L160.8 79.9 L194.2 107.4 L227.5 132.5 L260.9 148.5 L294.2 161.0 L327.6 177.6 L360.9 192.6 L394.2 198.1 L427.6 196.5 L460.9 188.6 L494.3 168.4 L527.6 157.9 L561.0 146.6 L594.3 141.1 L627.7 135.9 L661.0 137.4" fill="none" stroke="#000" stroke-opacity="0.30" stroke-width="3.8" stroke-dasharray="3.6 8.8"/>
<line x1="127.5" y1="49.6" x2="127.5" y2="55.6" stroke="#000" stroke-opacity="0.36" stroke-width="4.4"/>
<line x1="120.9" y1="49.6" x2="134.1" y2="49.6" stroke="#000" stroke-opacity="0.45" stroke-width="2.4"/>
<line x1="120.9" y1="55.6" x2="134.1" y2="55.6" stroke="#000" stroke-opacity="0.45" stroke-width="2.4"/>
<line x1="160.8" y1="69.9" x2="160.8" y2="89.9" stroke="#000" stroke-opacity="0.36" stroke-width="4.4"/>
<line x1="154.2" y1="69.9" x2="167.4" y2="69.9" stroke="#000" stroke-opacity="0.45" stroke-width="2.4"/>
<line x1="154.2" y1="89.9" x2="167.4" y2="89.9" stroke="#000" stroke-opacity="0.45" stroke-width="2.4"/>
<line x1="194.2" y1="96.9" x2="194.2" y2="117.9" stroke="#000" stroke-opacity="0.36" stroke-width="4.4"/>
<line x1="187.6" y1="96.9" x2="200.8" y2="96.9" stroke="#000" stroke-opacity="0.45" stroke-width="2.4"/>
<line x1="187.6" y1="117.9" x2="200.8" y2="117.9" stroke="#000" stroke-opacity="0.45" stroke-width="2.4"/>
<line x1="227.5" y1="127.0" x2="227.5" y2="138.0" stroke="#000" stroke-opacity="0.36" stroke-width="4.4"/>
<line x1="220.9" y1="127.0" x2="234.1" y2="127.0" stroke="#000" stroke-opacity="0.45" stroke-width="2.4"/>
<line x1="220.9" y1="138.0" x2="234.1" y2="138.0" stroke="#000" stroke-opacity="0.45" stroke-width="2.4"/>
<line x1="260.9" y1="141.0" x2="260.9" y2="156.0" stroke="#000" stroke-opacity="0.36" stroke-width="4.4"/>
<line x1="254.3" y1="141.0" x2="267.5" y2="141.0" stroke="#000" stroke-opacity="0.45" stroke-width="2.4"/>
<line x1="254.3" y1="156.0" x2="267.5" y2="156.0" stroke="#000" stroke-opacity="0.45" stroke-width="2.4"/>
<line x1="294.2" y1="156.5" x2="294.2" y2="165.5" stroke="#000" stroke-opacity="0.36" stroke-width="4.4"/>
<line x1="287.6" y1="156.5" x2="300.8" y2="156.5" stroke="#000" stroke-opacity="0.45" stroke-width="2.4"/>
<line x1="287.6" y1="165.5" x2="300.8" y2="165.5" stroke="#000" stroke-opacity="0.45" stroke-width="2.4"/>
<line x1="327.6" y1="173.1" x2="327.6" y2="182.1" stroke="#000" stroke-opacity="0.36" stroke-width="4.4"/>
<line x1="321.0" y1="173.1" x2="334.2" y2="173.1" stroke="#000" stroke-opacity="0.45" stroke-width="2.4"/>
<line x1="321.0" y1="182.1" x2="334.2" y2="182.1" stroke="#000" stroke-opacity="0.45" stroke-width="2.4"/>
<line x1="360.9" y1="188.1" x2="360.9" y2="197.1" stroke="#000" stroke-opacity="0.36" stroke-width="4.4"/>
<line x1="354.3" y1="188.1" x2="367.5" y2="188.1" stroke="#000" stroke-opacity="0.45" stroke-width="2.4"/>
<line x1="354.3" y1="197.1" x2="367.5" y2="197.1" stroke="#000" stroke-opacity="0.45" stroke-width="2.4"/>
<line x1="394.2" y1="194.1" x2="394.2" y2="202.1" stroke="#000" stroke-opacity="0.36" stroke-width="4.4"/>
<line x1="387.6" y1="194.1" x2="400.9" y2="194.1" stroke="#000" stroke-opacity="0.45" stroke-width="2.4"/>
<line x1="387.6" y1="202.1" x2="400.9" y2="202.1" stroke="#000" stroke-opacity="0.45" stroke-width="2.4"/>
<line x1="427.6" y1="192.0" x2="427.6" y2="201.0" stroke="#000" stroke-opacity="0.36" stroke-width="4.4"/>
<line x1="421.0" y1="192.0" x2="434.2" y2="192.0" stroke="#000" stroke-opacity="0.45" stroke-width="2.4"/>
<line x1="421.0" y1="201.0" x2="434.2" y2="201.0" stroke="#000" stroke-opacity="0.45" stroke-width="2.4"/>
<line x1="460.9" y1="184.1" x2="460.9" y2="193.1" stroke="#000" stroke-opacity="0.36" stroke-width="4.4"/>
<line x1="454.3" y1="184.1" x2="467.5" y2="184.1" stroke="#000" stroke-opacity="0.45" stroke-width="2.4"/>
<line x1="454.3" y1="193.1" x2="467.5" y2="193.1" stroke="#000" stroke-opacity="0.45" stroke-width="2.4"/>
<line x1="494.3" y1="162.4" x2="494.3" y2="174.4" stroke="#000" stroke-opacity="0.36" stroke-width="4.4"/>
<line x1="487.7" y1="162.4" x2="500.9" y2="162.4" stroke="#000" stroke-opacity="0.45" stroke-width="2.4"/>
<line x1="487.7" y1="174.4" x2="500.9" y2="174.4" stroke="#000" stroke-opacity="0.45" stroke-width="2.4"/>
<line x1="527.6" y1="150.4" x2="527.6" y2="165.4" stroke="#000" stroke-opacity="0.36" stroke-width="4.4"/>
<line x1="521.0" y1="150.4" x2="534.2" y2="150.4" stroke="#000" stroke-opacity="0.45" stroke-width="2.4"/>
<line x1="521.0" y1="165.4" x2="534.2" y2="165.4" stroke="#000" stroke-opacity="0.45" stroke-width="2.4"/>
<line x1="561.0" y1="142.1" x2="561.0" y2="151.1" stroke="#000" stroke-opacity="0.36" stroke-width="4.4"/>
<line x1="554.4" y1="142.1" x2="567.6" y2="142.1" stroke="#000" stroke-opacity="0.45" stroke-width="2.4"/>
<line x1="554.4" y1="151.1" x2="567.6" y2="151.1" stroke="#000" stroke-opacity="0.45" stroke-width="2.4"/>
<line x1="594.3" y1="135.6" x2="594.3" y2="146.6" stroke="#000" stroke-opacity="0.36" stroke-width="4.4"/>
<line x1="587.7" y1="135.6" x2="600.9" y2="135.6" stroke="#000" stroke-opacity="0.45" stroke-width="2.4"/>
<line x1="587.7" y1="146.6" x2="600.9" y2="146.6" stroke="#000" stroke-opacity="0.45" stroke-width="2.4"/>
<line x1="627.7" y1="127.4" x2="627.7" y2="144.4" stroke="#000" stroke-opacity="0.36" stroke-width="4.4"/>
<line x1="621.1" y1="127.4" x2="634.3" y2="127.4" stroke="#000" stroke-opacity="0.45" stroke-width="2.4"/>
<line x1="621.1" y1="144.4" x2="634.3" y2="144.4" stroke="#000" stroke-opacity="0.45" stroke-width="2.4"/>
<line x1="661.0" y1="129.9" x2="661.0" y2="144.9" stroke="#000" stroke-opacity="0.36" stroke-width="4.4"/>
<line x1="654.4" y1="129.9" x2="667.6" y2="129.9" stroke="#000" stroke-opacity="0.45" stroke-width="2.4"/>
<line x1="654.4" y1="144.9" x2="667.6" y2="144.9" stroke="#000" stroke-opacity="0.45" stroke-width="2.4"/>
<circle cx="127.5" cy="52.6" r="5.9" fill="#000" fill-opacity="0.36" stroke="#000" stroke-opacity="0.52" stroke-width="2.7"/>
<circle cx="160.8" cy="79.9" r="5.9" fill="#000" fill-opacity="0.36" stroke="#000" stroke-opacity="0.52" stroke-width="2.7"/>
<circle cx="194.2" cy="107.4" r="5.9" fill="#000" fill-opacity="0.36" stroke="#000" stroke-opacity="0.52" stroke-width="2.7"/>
<circle cx="227.5" cy="132.5" r="5.9" fill="#000" fill-opacity="0.36" stroke="#000" stroke-opacity="0.52" stroke-width="2.7"/>
<circle cx="260.9" cy="148.5" r="5.9" fill="#000" fill-opacity="0.36" stroke="#000" stroke-opacity="0.52" stroke-width="2.7"/>
<circle cx="294.2" cy="161.0" r="5.9" fill="#000" fill-opacity="0.36" stroke="#000" stroke-opacity="0.52" stroke-width="2.7"/>
<circle cx="327.6" cy="177.6" r="5.9" fill="#000" fill-opacity="0.36" stroke="#000" stroke-opacity="0.52" stroke-width="2.7"/>
<circle cx="360.9" cy="192.6" r="5.9" fill="#000" fill-opacity="0.36" stroke="#000" stroke-opacity="0.52" stroke-width="2.7"/>
<circle cx="394.2" cy="198.1" r="5.9" fill="#000" fill-opacity="0.36" stroke="#000" stroke-opacity="0.52" stroke-width="2.7"/>
<circle cx="427.6" cy="196.5" r="5.9" fill="#000" fill-opacity="0.36" stroke="#000" stroke-opacity="0.52" stroke-width="2.7"/>
<circle cx="460.9" cy="188.6" r="5.9" fill="#000" fill-opacity="0.36" stroke="#000" stroke-opacity="0.52" stroke-width="2.7"/>
<circle cx="494.3" cy="168.4" r="5.9" fill="#000" fill-opacity="0.36" stroke="#000" stroke-opacity="0.52" stroke-width="2.7"/>
<circle cx="527.6" cy="157.9" r="5.9" fill="#000" fill-opacity="0.36" stroke="#000" stroke-opacity="0.52" stroke-width="2.7"/>
<circle cx="561.0" cy="146.6" r="5.9" fill="#000" fill-opacity="0.36" stroke="#000" stroke-opacity="0.52" stroke-width="2.7"/>
<circle cx="594.3" cy="141.1" r="5.9" fill="#000" fill-opacity="0.36" stroke="#000" stroke-opacity="0.52" stroke-width="2.7"/>
<circle cx="627.7" cy="135.9" r="5.9" fill="#000" fill-opacity="0.36" stroke="#000" stroke-opacity="0.52" stroke-width="2.7"/>
<circle cx="661.0" cy="137.4" r="5.9" fill="#000" fill-opacity="0.36" stroke="#000" stroke-opacity="0.52" stroke-width="2.7"/>
</g>
<rect x="127.5" y="13.4" width="533.5" height="245.0" fill="none" stroke="#000" stroke-width="2.8"/>
<line x1="116.5" y1="258.4" x2="127.5" y2="258.4" stroke="#000" stroke-width="2.8" />
<text transform="translate(37.31 271.40) scale(0.9705 1)" font-family='"Liberation Serif", "DejaVu Serif", serif' font-size="38.5" stroke="#ffffff" stroke-width="0.45">0.00</text>
<line x1="116.5" y1="105.3" x2="127.5" y2="105.3" stroke="#000" stroke-width="2.8" />
<text transform="translate(37.51 118.27) scale(0.9643 1)" font-family='"Liberation Serif", "DejaVu Serif", serif' font-size="38.5" stroke="#ffffff" stroke-width="0.45">0.05</text>
<line x1="127.5" y1="258.4" x2="127.5" y2="269.4" stroke="#000" stroke-width="2.8" />
<text transform="translate(116.74 307.00) scale(0.9462 1)" font-family='"Liberation Serif", "DejaVu Serif", serif' font-size="38.5" stroke="#ffffff" stroke-width="0.45">0</text>
<line x1="294.2" y1="258.4" x2="294.2" y2="269.4" stroke="#000" stroke-width="2.8" />
<text transform="translate(283.62 307.00) scale(0.9026 1)" font-family='"Liberation Serif", "DejaVu Serif", serif' font-size="38.5" stroke="#ffffff" stroke-width="0.45">5</text>
<line x1="460.9" y1="258.4" x2="460.9" y2="269.4" stroke="#000" stroke-width="2.8" />
<text transform="translate(438.77 307.00) scale(0.9558 1)" font-family='"Liberation Serif", "DejaVu Serif", serif' font-size="38.5" stroke="#ffffff" stroke-width="0.45">10</text>
<line x1="627.7" y1="258.4" x2="627.7" y2="269.4" stroke="#000" stroke-width="2.8" />
<text transform="translate(606.02 307.00) scale(0.9113 1)" font-family='"Liberation Serif", "DejaVu Serif", serif' font-size="38.5" stroke="#ffffff" stroke-width="0.45">15</text>
<text transform="translate(27.20 200.29) rotate(-90) scale(0.9226 1)" font-family='"Liberation Sans", "DejaVu Sans", sans-serif' font-size="36.4">NRMSE</text>
<text transform="translate(219.73 343.20) scale(0.9594 1)" font-family='"Liberation Sans", "DejaVu Sans", sans-serif' font-size="36.4">State</text>
<text transform="translate(314.33 343.20) scale(1.0185 1)" font-family='"Liberation Sans", "DejaVu Sans", sans-serif' font-size="36.4">Matrix</text>
<text transform="translate(430.03 343.20) scale(0.8825 1)" font-family='"Liberation Sans", "DejaVu Sans", sans-serif' font-size="36.4">Delay</text>
<text transform="translate(526.84 343.20) scale(1.2958 1)" font-family='"Liberation Serif", "DejaVu Serif", serif' font-size="34.5" font-style="italic">n</text>
<text transform="translate(550.80 349.60) scale(1.1678 1)" font-family='"Liberation Serif", "DejaVu Serif", serif' font-size="25.6" font-style="italic">S</text>
<text transform="translate(604.57 57.40) scale(0.7365 1)" font-family='"Liberation Sans", "DejaVu Sans", sans-serif' font-size="41.5">(</text>
<text transform="translate(618.58 56.60) scale(0.7110 1)" font-family='"Liberation Sans", "DejaVu Sans", sans-serif' font-size="32.5">a</text>
<text transform="translate(638.35 57.40) scale(0.7365 1)" font-family='"Liberation Sans", "DejaVu Sans", sans-serif' font-size="41.5">)</text>
<clipPath id="cb2"><rect x="127.5" y="362.8" width="533.5" height="245.0"/></clipPath>
<g clip-path="url(#cb2)">
<path d="M151.8 520.1 L168.5 567.5 L185.2 588.5 L201.9 591.5 L218.6 593.0 L235.4 595.0 L252.1 593.0 L268.8 592.0 L285.5 592.0 L302.3 590.5 L319.0 588.9 L335.7 583.4 L352.4 579.5 L369.2 574.0 L385.9 566.9 L402.6 559.9 L419.3 547.5 L436.1 525.0 L452.8 518.5 L469.5 488.0 L486.2 481.9 L503.0 450.9 L519.7 462.5 L536.4 447.0 L553.1 417.6 L569.9 440.0 L586.6 460.0 L603.3 455.0 L620.0 449.0 L636.8 416.5" fill="none" stroke="#000" stroke-opacity="0.30" stroke-width="3.8" stroke-dasharray="3.6 8.8"/>
<line x1="151.8" y1="517.1" x2="151.8" y2="523.1" stroke="#000" stroke-opacity="0.36" stroke-width="4.4"/>
<line x1="145.2" y1="517.1" x2="158.3" y2="517.1" stroke="#000" stroke-opacity="0.45" stroke-width="2.4"/>
<line x1="145.2" y1="523.1" x2="158.3" y2="523.1" stroke="#000" stroke-opacity="0.45" stroke-width="2.4"/>
<line x1="168.5" y1="565.0" x2="168.5" y2="570.0" stroke="#000" stroke-opacity="0.36" stroke-width="4.4"/>
<line x1="161.9" y1="565.0" x2="175.1" y2="565.0" stroke="#000" stroke-opacity="0.45" stroke-width="2.4"/>
<line x1="161.9" y1="570.0" x2="175.1" y2="570.0" stroke="#000" stroke-opacity="0.45" stroke-width="2.4"/>
<line x1="185.2" y1="586.0" x2="185.2" y2="591.0" stroke="#000" stroke-opacity="0.36" stroke-width="4.4"/>
<line x1="178.6" y1="586.0" x2="191.8" y2="586.0" stroke="#000" stroke-opacity="0.45" stroke-width="2.4"/>
<line x1="178.6" y1="591.0" x2="191.8" y2="591.0" stroke="#000" stroke-opacity="0.45" stroke-width="2.4"/>
<line x1="201.9" y1="589.5" x2="201.9" y2="593.5" stroke="#000" stroke-opacity="0.36" stroke-width="4.4"/>
<line x1="195.3" y1="589.5" x2="208.5" y2="589.5" stroke="#000" stroke-opacity="0.45" stroke-width="2.4"/>
<line x1="195.3" y1="593.5" x2="208.5" y2="593.5" stroke="#000" stroke-opacity="0.45" stroke-width="2.4"/>
<line x1="218.6" y1="591.0" x2="218.6" y2="595.0" stroke="#000" stroke-opacity="0.36" stroke-width="4.4"/>
<line x1="212.0" y1="591.0" x2="225.2" y2="591.0" stroke="#000" stroke-opacity="0.45" stroke-width="2.4"/>
<line x1="212.0" y1="595.0" x2="225.2" y2="595.0" stroke="#000" stroke-opacity="0.45" stroke-width="2.4"/>
<line x1="235.4" y1="593.0" x2="235.4" y2="597.0" stroke="#000" stroke-opacity="0.36" stroke-width="4.4"/>
<line x1="228.8" y1="593.0" x2="242.0" y2="593.0" stroke="#000" stroke-opacity="0.45" stroke-width="2.4"/>
<line x1="228.8" y1="597.0" x2="242.0" y2="597.0" stroke="#000" stroke-opacity="0.45" stroke-width="2.4"/>
<line x1="252.1" y1="591.0" x2="252.1" y2="595.0" stroke="#000" stroke-opacity="0.36" stroke-width="4.4"/>
<line x1="245.5" y1="591.0" x2="258.7" y2="591.0" stroke="#000" stroke-opacity="0.45" stroke-width="2.4"/>
<line x1="245.5" y1="595.0" x2="258.7" y2="595.0" stroke="#000" stroke-opacity="0.45" stroke-width="2.4"/>
<line x1="268.8" y1="590.0" x2="268.8" y2="594.0" stroke="#000" stroke-opacity="0.36" stroke-width="4.4"/>
<line x1="262.2" y1="590.0" x2="275.4" y2="590.0" stroke="#000" stroke-opacity="0.45" stroke-width="2.4"/>
<line x1="262.2" y1="594.0" x2="275.4" y2="594.0" stroke="#000" stroke-opacity="0.45" stroke-width="2.4"/>
<line x1="285.5" y1="590.0" x2="285.5" y2="594.0" stroke="#000" stroke-opacity="0.36" stroke-width="4.4"/>
<line x1="278.9" y1="590.0" x2="292.1" y2="590.0" stroke="#000" stroke-opacity="0.45" stroke-width="2.4"/>
<line x1="278.9" y1="594.0" x2="292.1" y2="594.0" stroke="#000" stroke-opacity="0.45" stroke-width="2.4"/>
<line x1="302.3" y1="588.0" x2="302.3" y2="593.0" stroke="#000" stroke-opacity="0.36" stroke-width="4.4"/>
<line x1="295.7" y1="588.0" x2="308.9" y2="588.0" stroke="#000" stroke-opacity="0.45" stroke-width="2.4"/>
<line x1="295.7" y1="593.0" x2="308.9" y2="593.0" stroke="#000" stroke-opacity="0.45" stroke-width="2.4"/>
<line x1="319.0" y1="586.4" x2="319.0" y2="591.4" stroke="#000" stroke-opacity="0.36" stroke-width="4.4"/>
<line x1="312.4" y1="586.4" x2="325.6" y2="586.4" stroke="#000" stroke-opacity="0.45" stroke-width="2.4"/>
<line x1="312.4" y1="591.4" x2="325.6" y2="591.4" stroke="#000" stroke-opacity="0.45" stroke-width="2.4"/>
<line x1="335.7" y1="580.9" x2="335.7" y2="585.9" stroke="#000" stroke-opacity="0.36" stroke-width="4.4"/>
<line x1="329.1" y1="580.9" x2="342.3" y2="580.9" stroke="#000" stroke-opacity="0.45" stroke-width="2.4"/>
<line x1="329.1" y1="585.9" x2="342.3" y2="585.9" stroke="#000" stroke-opacity="0.45" stroke-width="2.4"/>
<line x1="352.4" y1="576.5" x2="352.4" y2="582.5" stroke="#000" stroke-opacity="0.36" stroke-width="4.4"/>
<line x1="345.8" y1="576.5" x2="359.0" y2="576.5" stroke="#000" stroke-opacity="0.45" stroke-width="2.4"/>
<line x1="345.8" y1="582.5" x2="359.0" y2="582.5" stroke="#000" stroke-opacity="0.45" stroke-width="2.4"/>
<line x1="369.2" y1="571.0" x2="369.2" y2="577.0" stroke="#000" stroke-opacity="0.36" stroke-width="4.4"/>
<line x1="362.6" y1="571.0" x2="375.8" y2="571.0" stroke="#000" stroke-opacity="0.45" stroke-width="2.4"/>
<line x1="362.6" y1="577.0" x2="375.8" y2="577.0" stroke="#000" stroke-opacity="0.45" stroke-width="2.4"/>
<line x1="385.9" y1="563.4" x2="385.9" y2="570.4" stroke="#000" stroke-opacity="0.36" stroke-width="4.4"/>
<line x1="379.3" y1="563.4" x2="392.5" y2="563.4" stroke="#000" stroke-opacity="0.45" stroke-width="2.4"/>
<line x1="379.3" y1="570.4" x2="392.5" y2="570.4" stroke="#000" stroke-opacity="0.45" stroke-width="2.4"/>
<line x1="402.6" y1="556.4" x2="402.6" y2="563.4" stroke="#000" stroke-opacity="0.36" stroke-width="4.4"/>
<line x1="396.0" y1="556.4" x2="409.2" y2="556.4" stroke="#000" stroke-opacity="0.45" stroke-width="2.4"/>
<line x1="396.0" y1="563.4" x2="409.2" y2="563.4" stroke="#000" stroke-opacity="0.45" stroke-width="2.4"/>
<line x1="419.3" y1="543.5" x2="419.3" y2="551.5" stroke="#000" stroke-opacity="0.36" stroke-width="4.4"/>
<line x1="412.7" y1="543.5" x2="425.9" y2="543.5" stroke="#000" stroke-opacity="0.45" stroke-width="2.4"/>
<line x1="412.7" y1="551.5" x2="425.9" y2="551.5" stroke="#000" stroke-opacity="0.45" stroke-width="2.4"/>
<line x1="436.1" y1="521.0" x2="436.1" y2="529.0" stroke="#000" stroke-opacity="0.36" stroke-width="4.4"/>
<line x1="429.5" y1="521.0" x2="442.7" y2="521.0" stroke="#000" stroke-opacity="0.45" stroke-width="2.4"/>
<line x1="429.5" y1="529.0" x2="442.7" y2="529.0" stroke="#000" stroke-opacity="0.45" stroke-width="2.4"/>
<line x1="452.8" y1="514.5" x2="452.8" y2="522.5" stroke="#000" stroke-opacity="0.36" stroke-width="4.4"/>
<line x1="446.2" y1="514.5" x2="459.4" y2="514.5" stroke="#000" stroke-opacity="0.45" stroke-width="2.4"/>
<line x1="446.2" y1="522.5" x2="459.4" y2="522.5" stroke="#000" stroke-opacity="0.45" stroke-width="2.4"/>
<line x1="469.5" y1="483.5" x2="469.5" y2="492.5" stroke="#000" stroke-opacity="0.36" stroke-width="4.4"/>
<line x1="462.9" y1="483.5" x2="476.1" y2="483.5" stroke="#000" stroke-opacity="0.45" stroke-width="2.4"/>
<line x1="462.9" y1="492.5" x2="476.1" y2="492.5" stroke="#000" stroke-opacity="0.45" stroke-width="2.4"/>
<line x1="486.2" y1="470.4" x2="486.2" y2="493.4" stroke="#000" stroke-opacity="0.36" stroke-width="4.4"/>
<line x1="479.6" y1="470.4" x2="492.8" y2="470.4" stroke="#000" stroke-opacity="0.45" stroke-width="2.4"/>
<line x1="479.6" y1="493.4" x2="492.8" y2="493.4" stroke="#000" stroke-opacity="0.45" stroke-width="2.4"/>
<line x1="503.0" y1="431.1" x2="503.0" y2="470.7" stroke="#000" stroke-opacity="0.36" stroke-width="4.4"/>
<line x1="496.4" y1="431.1" x2="509.6" y2="431.1" stroke="#000" stroke-opacity="0.45" stroke-width="2.4"/>
<line x1="496.4" y1="470.7" x2="509.6" y2="470.7" stroke="#000" stroke-opacity="0.45" stroke-width="2.4"/>
<line x1="519.7" y1="446.5" x2="519.7" y2="478.5" stroke="#000" stroke-opacity="0.36" stroke-width="4.4"/>
<line x1="513.1" y1="446.5" x2="526.3" y2="446.5" stroke="#000" stroke-opacity="0.45" stroke-width="2.4"/>
<line x1="513.1" y1="478.5" x2="526.3" y2="478.5" stroke="#000" stroke-opacity="0.45" stroke-width="2.4"/>
<line x1="536.4" y1="426.0" x2="536.4" y2="468.0" stroke="#000" stroke-opacity="0.36" stroke-width="4.4"/>
<line x1="529.8" y1="426.0" x2="543.0" y2="426.0" stroke="#000" stroke-opacity="0.45" stroke-width="2.4"/>
<line x1="529.8" y1="468.0" x2="543.0" y2="468.0" stroke="#000" stroke-opacity="0.45" stroke-width="2.4"/>
<line x1="553.1" y1="374.6" x2="553.1" y2="460.6" stroke="#000" stroke-opacity="0.36" stroke-width="4.4"/>
<line x1="546.5" y1="374.6" x2="559.7" y2="374.6" stroke="#000" stroke-opacity="0.45" stroke-width="2.4"/>
<line x1="546.5" y1="460.6" x2="559.7" y2="460.6" stroke="#000" stroke-opacity="0.45" stroke-width="2.4"/>
<line x1="569.9" y1="421.5" x2="569.9" y2="458.5" stroke="#000" stroke-opacity="0.36" stroke-width="4.4"/>
<line x1="563.3" y1="421.5" x2="576.5" y2="421.5" stroke="#000" stroke-opacity="0.45" stroke-width="2.4"/>
<line x1="563.3" y1="458.5" x2="576.5" y2="458.5" stroke="#000" stroke-opacity="0.45" stroke-width="2.4"/>
<line x1="586.6" y1="448.0" x2="586.6" y2="472.0" stroke="#000" stroke-opacity="0.36" stroke-width="4.4"/>
<line x1="580.0" y1="448.0" x2="593.2" y2="448.0" stroke="#000" stroke-opacity="0.45" stroke-width="2.4"/>
<line x1="580.0" y1="472.0" x2="593.2" y2="472.0" stroke="#000" stroke-opacity="0.45" stroke-width="2.4"/>
<line x1="603.3" y1="445.8" x2="603.3" y2="464.2" stroke="#000" stroke-opacity="0.36" stroke-width="4.4"/>
<line x1="596.7" y1="445.8" x2="609.9" y2="445.8" stroke="#000" stroke-opacity="0.45" stroke-width="2.4"/>
<line x1="596.7" y1="464.2" x2="609.9" y2="464.2" stroke="#000" stroke-opacity="0.45" stroke-width="2.4"/>
<line x1="620.0" y1="438.0" x2="620.0" y2="460.0" stroke="#000" stroke-opacity="0.36" stroke-width="4.4"/>
<line x1="613.4" y1="438.0" x2="626.6" y2="438.0" stroke="#000" stroke-opacity="0.45" stroke-width="2.4"/>
<line x1="613.4" y1="460.0" x2="626.6" y2="460.0" stroke="#000" stroke-opacity="0.45" stroke-width="2.4"/>
<line x1="636.8" y1="407.5" x2="636.8" y2="425.5" stroke="#000" stroke-opacity="0.36" stroke-width="4.4"/>
<line x1="630.1" y1="407.5" x2="643.4" y2="407.5" stroke="#000" stroke-opacity="0.45" stroke-width="2.4"/>
<line x1="630.1" y1="425.5" x2="643.4" y2="425.5" stroke="#000" stroke-opacity="0.45" stroke-width="2.4"/>
<circle cx="151.8" cy="520.1" r="5.9" fill="#000" fill-opacity="0.36" stroke="#000" stroke-opacity="0.52" stroke-width="2.7"/>
<circle cx="168.5" cy="567.5" r="5.9" fill="#000" fill-opacity="0.36" stroke="#000" stroke-opacity="0.52" stroke-width="2.7"/>
<circle cx="185.2" cy="588.5" r="5.9" fill="#000" fill-opacity="0.36" stroke="#000" stroke-opacity="0.52" stroke-width="2.7"/>
<circle cx="201.9" cy="591.5" r="5.9" fill="#000" fill-opacity="0.36" stroke="#000" stroke-opacity="0.52" stroke-width="2.7"/>
<circle cx="218.6" cy="593.0" r="5.9" fill="#000" fill-opacity="0.36" stroke="#000" stroke-opacity="0.52" stroke-width="2.7"/>
<circle cx="235.4" cy="595.0" r="5.9" fill="#000" fill-opacity="0.36" stroke="#000" stroke-opacity="0.52" stroke-width="2.7"/>
<circle cx="252.1" cy="593.0" r="5.9" fill="#000" fill-opacity="0.36" stroke="#000" stroke-opacity="0.52" stroke-width="2.7"/>
<circle cx="268.8" cy="592.0" r="5.9" fill="#000" fill-opacity="0.36" stroke="#000" stroke-opacity="0.52" stroke-width="2.7"/>
<circle cx="285.5" cy="592.0" r="5.9" fill="#000" fill-opacity="0.36" stroke="#000" stroke-opacity="0.52" stroke-width="2.7"/>
<circle cx="302.3" cy="590.5" r="5.9" fill="#000" fill-opacity="0.36" stroke="#000" stroke-opacity="0.52" stroke-width="2.7"/>
<circle cx="319.0" cy="588.9" r="5.9" fill="#000" fill-opacity="0.36" stroke="#000" stroke-opacity="0.52" stroke-width="2.7"/>
<circle cx="335.7" cy="583.4" r="5.9" fill="#000" fill-opacity="0.36" stroke="#000" stroke-opacity="0.52" stroke-width="2.7"/>
<circle cx="352.4" cy="579.5" r="5.9" fill="#000" fill-opacity="0.36" stroke="#000" stroke-opacity="0.52" stroke-width="2.7"/>
<circle cx="369.2" cy="574.0" r="5.9" fill="#000" fill-opacity="0.36" stroke="#000" stroke-opacity="0.52" stroke-width="2.7"/>
<circle cx="385.9" cy="566.9" r="5.9" fill="#000" fill-opacity="0.36" stroke="#000" stroke-opacity="0.52" stroke-width="2.7"/>
<circle cx="402.6" cy="559.9" r="5.9" fill="#000" fill-opacity="0.36" stroke="#000" stroke-opacity="0.52" stroke-width="2.7"/>
<circle cx="419.3" cy="547.5" r="5.9" fill="#000" fill-opacity="0.36" stroke="#000" stroke-opacity="0.52" stroke-width="2.7"/>
<circle cx="436.1" cy="525.0" r="5.9" fill="#000" fill-opacity="0.36" stroke="#000" stroke-opacity="0.52" stroke-width="2.7"/>
<circle cx="452.8" cy="518.5" r="5.9" fill="#000" fill-opacity="0.36" stroke="#000" stroke-opacity="0.52" stroke-width="2.7"/>
<circle cx="469.5" cy="488.0" r="5.9" fill="#000" fill-opacity="0.36" stroke="#000" stroke-opacity="0.52" stroke-width="2.7"/>
<circle cx="486.2" cy="481.9" r="5.9" fill="#000" fill-opacity="0.36" stroke="#000" stroke-opacity="0.52" stroke-width="2.7"/>
<circle cx="503.0" cy="450.9" r="5.9" fill="#000" fill-opacity="0.36" stroke="#000" stroke-opacity="0.52" stroke-width="2.7"/>
<circle cx="519.7" cy="462.5" r="5.9" fill="#000" fill-opacity="0.36" stroke="#000" stroke-opacity="0.52" stroke-width="2.7"/>
<circle cx="536.4" cy="447.0" r="5.9" fill="#000" fill-opacity="0.36" stroke="#000" stroke-opacity="0.52" stroke-width="2.7"/>
<circle cx="553.1" cy="417.6" r="5.9" fill="#000" fill-opacity="0.36" stroke="#000" stroke-opacity="0.52" stroke-width="2.7"/>
<circle cx="569.9" cy="440.0" r="5.9" fill="#000" fill-opacity="0.36" stroke="#000" stroke-opacity="0.52" stroke-width="2.7"/>
<circle cx="586.6" cy="460.0" r="5.9" fill="#000" fill-opacity="0.36" stroke="#000" stroke-opacity="0.52" stroke-width="2.7"/>
<circle cx="603.3" cy="455.0" r="5.9" fill="#000" fill-opacity="0.36" stroke="#000" stroke-opacity="0.52" stroke-width="2.7"/>
<circle cx="620.0" cy="449.0" r="5.9" fill="#000" fill-opacity="0.36" stroke="#000" stroke-opacity="0.52" stroke-width="2.7"/>
<circle cx="636.8" cy="416.5" r="5.9" fill="#000" fill-opacity="0.36" stroke="#000" stroke-opacity="0.52" stroke-width="2.7"/>
</g>
<rect x="127.5" y="362.8" width="533.5" height="245.0" fill="none" stroke="#000" stroke-width="2.8"/>
<line x1="116.5" y1="549.5" x2="127.5" y2="549.5" stroke="#000" stroke-width="2.8" />
<text transform="translate(37.62 562.50) scale(0.9627 1)" font-family='"Liberation Serif", "DejaVu Serif", serif' font-size="38.5" stroke="#ffffff" stroke-width="0.45">0.05</text>
<line x1="116.5" y1="477.0" x2="127.5" y2="477.0" stroke="#000" stroke-width="2.8" />
<text transform="translate(37.65 490.00) scale(0.9441 1)" font-family='"Liberation Serif", "DejaVu Serif", serif' font-size="38.5" stroke="#ffffff" stroke-width="0.45">0.10</text>
<line x1="116.5" y1="404.5" x2="127.5" y2="404.5" stroke="#000" stroke-width="2.8" />
<text transform="translate(37.65 417.50) scale(0.9441 1)" font-family='"Liberation Serif", "DejaVu Serif", serif' font-size="38.5" stroke="#ffffff" stroke-width="0.45">0.15</text>
<line x1="135.0" y1="607.8" x2="135.0" y2="618.8" stroke="#000" stroke-width="2.8" />
<text transform="translate(124.68 656.40) scale(0.8596 1)" font-family='"Liberation Serif", "DejaVu Serif", serif' font-size="38.5" stroke="#ffffff" stroke-width="0.45">0</text>
<line x1="302.3" y1="607.8" x2="302.3" y2="618.8" stroke="#000" stroke-width="2.8" />
<text transform="translate(280.01 656.40) scale(0.9440 1)" font-family='"Liberation Serif", "DejaVu Serif", serif' font-size="38.5" stroke="#ffffff" stroke-width="0.45">10</text>
<line x1="469.5" y1="607.8" x2="469.5" y2="618.8" stroke="#000" stroke-width="2.8" />
<text transform="translate(451.22 656.40) scale(0.9141 1)" font-family='"Liberation Serif", "DejaVu Serif", serif' font-size="38.5" stroke="#ffffff" stroke-width="0.45">20</text>
<line x1="636.8" y1="607.8" x2="636.8" y2="618.8" stroke="#000" stroke-width="2.8" />
<text transform="translate(618.14 656.40) scale(0.9027 1)" font-family='"Liberation Serif", "DejaVu Serif", serif' font-size="38.5" stroke="#ffffff" stroke-width="0.45">30</text>
<text transform="translate(27.20 549.29) rotate(-90) scale(0.9226 1)" font-family='"Liberation Sans", "DejaVu Sans", sans-serif' font-size="36.4">NRMSE</text>
<text transform="translate(192.48 698.70) scale(0.9538 1)" font-family='"Liberation Sans", "DejaVu Sans", sans-serif' font-size="36.4">Internal</text>
<text transform="translate(322.60 698.70) scale(0.8913 1)" font-family='"Liberation Sans", "DejaVu Sans", sans-serif' font-size="36.4">Delay</text>
<text transform="translate(422.85 698.70) scale(0.6875 1)" font-family='"Liberation Serif", "DejaVu Serif", serif' font-size="40.5">(</text>
<text transform="translate(437.71 698.70) scale(1.0604 1)" font-family='"Liberation Serif", "DejaVu Serif", serif' font-size="38.9" font-style="italic">N</text>
<text transform="translate(478.61 702.50) scale(1.1395 1)" font-family='"Liberation Serif", "DejaVu Serif", serif' font-size="38.5" stroke="#ffffff" stroke-width="0.45">−</text>
<text transform="translate(516.14 698.70) scale(0.8121 1)" font-family='"Liberation Serif", "DejaVu Serif", serif' font-size="38.5" stroke="#ffffff" stroke-width="0.45">1</text>
<text transform="translate(535.28 698.70) scale(0.6743 1)" font-family='"Liberation Serif", "DejaVu Serif", serif' font-size="40.5">)</text>
<text transform="translate(550.80 708.10) scale(0.9058 1)" font-family='"Liberation Serif", "DejaVu Serif", serif' font-size="55" stroke="#ffffff" stroke-width="1.3">/</text>
<text transform="translate(569.67 698.70) scale(1.1040 1)" font-family='"Liberation Serif", "DejaVu Serif", serif' font-size="38.9" font-style="italic">S</text>
<text transform="translate(604.17 583.80) scale(0.7365 1)" font-family='"Liberation Sans", "DejaVu Sans", sans-serif' font-size="41.5">(</text>
<text transform="translate(618.34 583.30) scale(0.8635 1)" font-family='"Liberation Sans", "DejaVu Sans", sans-serif' font-size="35">b</text>
<text transform="translate(638.75 583.80) scale(0.7365 1)" font-family='"Liberation Sans", "DejaVu Sans", sans-serif' font-size="41.5">)</text>
</svg>
</body>
</html>
